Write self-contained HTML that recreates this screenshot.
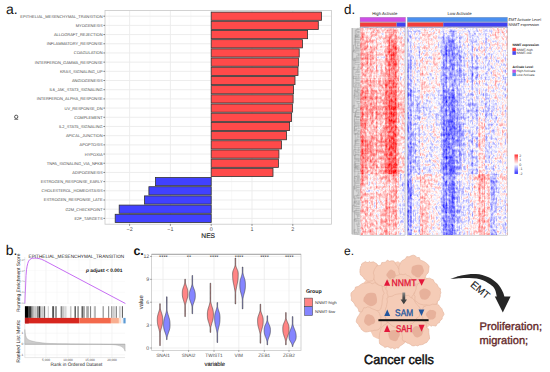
<!DOCTYPE html>
<html><head><meta charset="utf-8"><style>
html,body{margin:0;padding:0;background:#fff;}
body{width:550px;height:372px;overflow:hidden;}
svg{display:block;font-family:"Liberation Sans", sans-serif;text-rendering:geometricPrecision;}
</style></head><body>
<svg width="550" height="372" viewBox="0 0 550 372">
<rect x="105.0" y="10.5" width="226.39999999999998" height="213.7" fill="#fff"/>
<line x1="109.20" y1="10.5" x2="109.20" y2="224.2" stroke="#f2f2f2" stroke-width="0.5"/>
<line x1="150.00" y1="10.5" x2="150.00" y2="224.2" stroke="#f2f2f2" stroke-width="0.5"/>
<line x1="190.80" y1="10.5" x2="190.80" y2="224.2" stroke="#f2f2f2" stroke-width="0.5"/>
<line x1="231.60" y1="10.5" x2="231.60" y2="224.2" stroke="#f2f2f2" stroke-width="0.5"/>
<line x1="272.40" y1="10.5" x2="272.40" y2="224.2" stroke="#f2f2f2" stroke-width="0.5"/>
<line x1="313.20" y1="10.5" x2="313.20" y2="224.2" stroke="#f2f2f2" stroke-width="0.5"/>
<line x1="129.60" y1="10.5" x2="129.60" y2="224.2" stroke="#ebebeb" stroke-width="0.9"/>
<line x1="170.40" y1="10.5" x2="170.40" y2="224.2" stroke="#ebebeb" stroke-width="0.9"/>
<line x1="211.20" y1="10.5" x2="211.20" y2="224.2" stroke="#ebebeb" stroke-width="0.9"/>
<line x1="252.00" y1="10.5" x2="252.00" y2="224.2" stroke="#ebebeb" stroke-width="0.9"/>
<line x1="292.80" y1="10.5" x2="292.80" y2="224.2" stroke="#ebebeb" stroke-width="0.9"/>
<line x1="105.0" y1="16.20" x2="331.4" y2="16.20" stroke="#ebebeb" stroke-width="0.9"/>
<line x1="105.0" y1="25.39" x2="331.4" y2="25.39" stroke="#ebebeb" stroke-width="0.9"/>
<line x1="105.0" y1="34.58" x2="331.4" y2="34.58" stroke="#ebebeb" stroke-width="0.9"/>
<line x1="105.0" y1="43.77" x2="331.4" y2="43.77" stroke="#ebebeb" stroke-width="0.9"/>
<line x1="105.0" y1="52.96" x2="331.4" y2="52.96" stroke="#ebebeb" stroke-width="0.9"/>
<line x1="105.0" y1="62.15" x2="331.4" y2="62.15" stroke="#ebebeb" stroke-width="0.9"/>
<line x1="105.0" y1="71.34" x2="331.4" y2="71.34" stroke="#ebebeb" stroke-width="0.9"/>
<line x1="105.0" y1="80.53" x2="331.4" y2="80.53" stroke="#ebebeb" stroke-width="0.9"/>
<line x1="105.0" y1="89.72" x2="331.4" y2="89.72" stroke="#ebebeb" stroke-width="0.9"/>
<line x1="105.0" y1="98.91" x2="331.4" y2="98.91" stroke="#ebebeb" stroke-width="0.9"/>
<line x1="105.0" y1="108.10" x2="331.4" y2="108.10" stroke="#ebebeb" stroke-width="0.9"/>
<line x1="105.0" y1="117.29" x2="331.4" y2="117.29" stroke="#ebebeb" stroke-width="0.9"/>
<line x1="105.0" y1="126.48" x2="331.4" y2="126.48" stroke="#ebebeb" stroke-width="0.9"/>
<line x1="105.0" y1="135.67" x2="331.4" y2="135.67" stroke="#ebebeb" stroke-width="0.9"/>
<line x1="105.0" y1="144.86" x2="331.4" y2="144.86" stroke="#ebebeb" stroke-width="0.9"/>
<line x1="105.0" y1="154.05" x2="331.4" y2="154.05" stroke="#ebebeb" stroke-width="0.9"/>
<line x1="105.0" y1="163.24" x2="331.4" y2="163.24" stroke="#ebebeb" stroke-width="0.9"/>
<line x1="105.0" y1="172.43" x2="331.4" y2="172.43" stroke="#ebebeb" stroke-width="0.9"/>
<line x1="105.0" y1="181.62" x2="331.4" y2="181.62" stroke="#ebebeb" stroke-width="0.9"/>
<line x1="105.0" y1="190.81" x2="331.4" y2="190.81" stroke="#ebebeb" stroke-width="0.9"/>
<line x1="105.0" y1="200.00" x2="331.4" y2="200.00" stroke="#ebebeb" stroke-width="0.9"/>
<line x1="105.0" y1="209.19" x2="331.4" y2="209.19" stroke="#ebebeb" stroke-width="0.9"/>
<line x1="105.0" y1="218.38" x2="331.4" y2="218.38" stroke="#ebebeb" stroke-width="0.9"/>
<rect x="211.2" y="12.10" width="110.30" height="8.2" fill="#ff4a4a" stroke="#333" stroke-width="0.8"/>
<rect x="211.2" y="21.29" width="107.10" height="8.2" fill="#ff4a4a" stroke="#333" stroke-width="0.8"/>
<rect x="211.2" y="30.48" width="96.40" height="8.2" fill="#ff4a4a" stroke="#333" stroke-width="0.8"/>
<rect x="211.2" y="39.67" width="91.30" height="8.2" fill="#ff4a4a" stroke="#333" stroke-width="0.8"/>
<rect x="211.2" y="48.86" width="88.00" height="8.2" fill="#ff4a4a" stroke="#333" stroke-width="0.8"/>
<rect x="211.2" y="58.05" width="87.30" height="8.2" fill="#ff4a4a" stroke="#333" stroke-width="0.8"/>
<rect x="211.2" y="67.24" width="86.80" height="8.2" fill="#ff4a4a" stroke="#333" stroke-width="0.8"/>
<rect x="211.2" y="76.43" width="83.80" height="8.2" fill="#ff4a4a" stroke="#333" stroke-width="0.8"/>
<rect x="211.2" y="85.62" width="82.40" height="8.2" fill="#ff4a4a" stroke="#333" stroke-width="0.8"/>
<rect x="211.2" y="94.81" width="81.90" height="8.2" fill="#ff4a4a" stroke="#333" stroke-width="0.8"/>
<rect x="211.2" y="104.00" width="81.20" height="8.2" fill="#ff4a4a" stroke="#333" stroke-width="0.8"/>
<rect x="211.2" y="113.19" width="80.40" height="8.2" fill="#ff4a4a" stroke="#333" stroke-width="0.8"/>
<rect x="211.2" y="122.38" width="78.40" height="8.2" fill="#ff4a4a" stroke="#333" stroke-width="0.8"/>
<rect x="211.2" y="131.57" width="75.30" height="8.2" fill="#ff4a4a" stroke="#333" stroke-width="0.8"/>
<rect x="211.2" y="140.76" width="70.20" height="8.2" fill="#ff4a4a" stroke="#333" stroke-width="0.8"/>
<rect x="211.2" y="149.95" width="67.70" height="8.2" fill="#ff4a4a" stroke="#333" stroke-width="0.8"/>
<rect x="211.2" y="159.14" width="67.20" height="8.2" fill="#ff4a4a" stroke="#333" stroke-width="0.8"/>
<rect x="211.2" y="168.33" width="61.80" height="8.2" fill="#ff4a4a" stroke="#333" stroke-width="0.8"/>
<rect x="155.5" y="177.52" width="55.70" height="8.2" fill="#4141ff" stroke="#333" stroke-width="0.8"/>
<rect x="148.9" y="186.71" width="62.30" height="8.2" fill="#4141ff" stroke="#333" stroke-width="0.8"/>
<rect x="144.5" y="195.90" width="66.70" height="8.2" fill="#4141ff" stroke="#333" stroke-width="0.8"/>
<rect x="119.2" y="205.09" width="92.00" height="8.2" fill="#4141ff" stroke="#333" stroke-width="0.8"/>
<rect x="115.2" y="214.28" width="96.00" height="8.2" fill="#4141ff" stroke="#333" stroke-width="0.8"/>
<rect x="105.0" y="10.5" width="226.39999999999998" height="213.7" fill="none" stroke="#c8c8c8" stroke-width="0.8"/>
<line x1="103.4" y1="16.20" x2="105.0" y2="16.20" stroke="#333" stroke-width="0.6"/>
<text x="102.60" y="17.65" font-size="4.0" fill="#4d4d4d" text-anchor="end" font-weight="normal" >EPITHELIAL_MESENCHYMAL_TRANSITION</text>
<line x1="103.4" y1="25.39" x2="105.0" y2="25.39" stroke="#333" stroke-width="0.6"/>
<text x="102.60" y="26.84" font-size="4.0" fill="#4d4d4d" text-anchor="end" font-weight="normal" >MYOGENESIS</text>
<line x1="103.4" y1="34.58" x2="105.0" y2="34.58" stroke="#333" stroke-width="0.6"/>
<text x="102.60" y="36.03" font-size="4.0" fill="#4d4d4d" text-anchor="end" font-weight="normal" >ALLOGRAFT_REJECTION</text>
<line x1="103.4" y1="43.77" x2="105.0" y2="43.77" stroke="#333" stroke-width="0.6"/>
<text x="102.60" y="45.22" font-size="4.0" fill="#4d4d4d" text-anchor="end" font-weight="normal" >INFLAMMATORY_RESPONSE</text>
<line x1="103.4" y1="52.96" x2="105.0" y2="52.96" stroke="#333" stroke-width="0.6"/>
<text x="102.60" y="54.41" font-size="4.0" fill="#4d4d4d" text-anchor="end" font-weight="normal" >COAGULATION</text>
<line x1="103.4" y1="62.15" x2="105.0" y2="62.15" stroke="#333" stroke-width="0.6"/>
<text x="102.60" y="63.60" font-size="4.0" fill="#4d4d4d" text-anchor="end" font-weight="normal" >INTERFERON_GAMMA_RESPONSE</text>
<line x1="103.4" y1="71.34" x2="105.0" y2="71.34" stroke="#333" stroke-width="0.6"/>
<text x="102.60" y="72.79" font-size="4.0" fill="#4d4d4d" text-anchor="end" font-weight="normal" >KRAS_SIGNALING_UP</text>
<line x1="103.4" y1="80.53" x2="105.0" y2="80.53" stroke="#333" stroke-width="0.6"/>
<text x="102.60" y="81.98" font-size="4.0" fill="#4d4d4d" text-anchor="end" font-weight="normal" >ANGIOGENESIS</text>
<line x1="103.4" y1="89.72" x2="105.0" y2="89.72" stroke="#333" stroke-width="0.6"/>
<text x="102.60" y="91.17" font-size="4.0" fill="#4d4d4d" text-anchor="end" font-weight="normal" >IL6_JAK_STAT3_SIGNALING</text>
<line x1="103.4" y1="98.91" x2="105.0" y2="98.91" stroke="#333" stroke-width="0.6"/>
<text x="102.60" y="100.36" font-size="4.0" fill="#4d4d4d" text-anchor="end" font-weight="normal" >INTERFERON_ALPHA_RESPONSE</text>
<line x1="103.4" y1="108.10" x2="105.0" y2="108.10" stroke="#333" stroke-width="0.6"/>
<text x="102.60" y="109.55" font-size="4.0" fill="#4d4d4d" text-anchor="end" font-weight="normal" >UV_RESPONSE_DN</text>
<line x1="103.4" y1="117.29" x2="105.0" y2="117.29" stroke="#333" stroke-width="0.6"/>
<text x="102.60" y="118.74" font-size="4.0" fill="#4d4d4d" text-anchor="end" font-weight="normal" >COMPLEMENT</text>
<line x1="103.4" y1="126.48" x2="105.0" y2="126.48" stroke="#333" stroke-width="0.6"/>
<text x="102.60" y="127.93" font-size="4.0" fill="#4d4d4d" text-anchor="end" font-weight="normal" >IL2_STAT5_SIGNALING</text>
<line x1="103.4" y1="135.67" x2="105.0" y2="135.67" stroke="#333" stroke-width="0.6"/>
<text x="102.60" y="137.12" font-size="4.0" fill="#4d4d4d" text-anchor="end" font-weight="normal" >APICAL_JUNCTION</text>
<line x1="103.4" y1="144.86" x2="105.0" y2="144.86" stroke="#333" stroke-width="0.6"/>
<text x="102.60" y="146.31" font-size="4.0" fill="#4d4d4d" text-anchor="end" font-weight="normal" >APOPTOSIS</text>
<line x1="103.4" y1="154.05" x2="105.0" y2="154.05" stroke="#333" stroke-width="0.6"/>
<text x="102.60" y="155.50" font-size="4.0" fill="#4d4d4d" text-anchor="end" font-weight="normal" >HYPOXIA</text>
<line x1="103.4" y1="163.24" x2="105.0" y2="163.24" stroke="#333" stroke-width="0.6"/>
<text x="102.60" y="164.69" font-size="4.0" fill="#4d4d4d" text-anchor="end" font-weight="normal" >TNFA_SIGNALING_VIA_NFKB</text>
<line x1="103.4" y1="172.43" x2="105.0" y2="172.43" stroke="#333" stroke-width="0.6"/>
<text x="102.60" y="173.88" font-size="4.0" fill="#4d4d4d" text-anchor="end" font-weight="normal" >ADIPOGENESIS</text>
<line x1="103.4" y1="181.62" x2="105.0" y2="181.62" stroke="#333" stroke-width="0.6"/>
<text x="102.60" y="183.07" font-size="4.0" fill="#4d4d4d" text-anchor="end" font-weight="normal" >ESTROGEN_RESPONSE_EARLY</text>
<line x1="103.4" y1="190.81" x2="105.0" y2="190.81" stroke="#333" stroke-width="0.6"/>
<text x="102.60" y="192.26" font-size="4.0" fill="#4d4d4d" text-anchor="end" font-weight="normal" >CHOLESTEROL_HOMEOSTASIS</text>
<line x1="103.4" y1="200.00" x2="105.0" y2="200.00" stroke="#333" stroke-width="0.6"/>
<text x="102.60" y="201.45" font-size="4.0" fill="#4d4d4d" text-anchor="end" font-weight="normal" >ESTROGEN_RESPONSE_LATE</text>
<line x1="103.4" y1="209.19" x2="105.0" y2="209.19" stroke="#333" stroke-width="0.6"/>
<text x="102.60" y="210.64" font-size="4.0" fill="#4d4d4d" text-anchor="end" font-weight="normal" >G2M_CHECKPOINT</text>
<line x1="103.4" y1="218.38" x2="105.0" y2="218.38" stroke="#333" stroke-width="0.6"/>
<text x="102.60" y="219.83" font-size="4.0" fill="#4d4d4d" text-anchor="end" font-weight="normal" >E2F_TARGETS</text>
<line x1="129.60" y1="224.2" x2="129.60" y2="225.79999999999998" stroke="#333" stroke-width="0.6"/>
<text x="129.60" y="230.60" font-size="5.4" fill="#4d4d4d" text-anchor="middle" font-weight="normal" >−2</text>
<line x1="170.40" y1="224.2" x2="170.40" y2="225.79999999999998" stroke="#333" stroke-width="0.6"/>
<text x="170.40" y="230.60" font-size="5.4" fill="#4d4d4d" text-anchor="middle" font-weight="normal" >−1</text>
<line x1="211.20" y1="224.2" x2="211.20" y2="225.79999999999998" stroke="#333" stroke-width="0.6"/>
<text x="211.20" y="230.60" font-size="5.4" fill="#4d4d4d" text-anchor="middle" font-weight="normal" >0</text>
<line x1="252.00" y1="224.2" x2="252.00" y2="225.79999999999998" stroke="#333" stroke-width="0.6"/>
<text x="252.00" y="230.60" font-size="5.4" fill="#4d4d4d" text-anchor="middle" font-weight="normal" >1</text>
<line x1="292.80" y1="224.2" x2="292.80" y2="225.79999999999998" stroke="#333" stroke-width="0.6"/>
<text x="292.80" y="230.60" font-size="5.4" fill="#4d4d4d" text-anchor="middle" font-weight="normal" >2</text>
<text x="208.20" y="238.20" font-size="6.7" fill="#1a1a1a" text-anchor="middle" font-weight="normal" stroke="#1a1a1a" stroke-width="0.12">NES</text>
<circle cx="16.2" cy="116.8" r="1.65" fill="none" stroke="#3a3a3a" stroke-width="0.85"/><path d="M14.3,119.3 H18.2" stroke="#4a4a4a" stroke-width="0.8"/>
<text x="5.90" y="14.00" font-size="14" fill="#111" text-anchor="start" font-weight="normal" >a.</text>
<text x="5.80" y="254.80" font-size="14" fill="#111" text-anchor="start" font-weight="normal" >b.</text>
<line x1="46.00" y1="258" x2="46.00" y2="304" stroke="#ececec" stroke-width="0.6"/>
<line x1="46.00" y1="306" x2="46.00" y2="318.5" stroke="#ececec" stroke-width="0.6"/>
<line x1="46.00" y1="324" x2="46.00" y2="357.5" stroke="#ececec" stroke-width="0.6"/>
<line x1="68.00" y1="258" x2="68.00" y2="304" stroke="#ececec" stroke-width="0.6"/>
<line x1="68.00" y1="306" x2="68.00" y2="318.5" stroke="#ececec" stroke-width="0.6"/>
<line x1="68.00" y1="324" x2="68.00" y2="357.5" stroke="#ececec" stroke-width="0.6"/>
<line x1="90.00" y1="258" x2="90.00" y2="304" stroke="#ececec" stroke-width="0.6"/>
<line x1="90.00" y1="306" x2="90.00" y2="318.5" stroke="#ececec" stroke-width="0.6"/>
<line x1="90.00" y1="324" x2="90.00" y2="357.5" stroke="#ececec" stroke-width="0.6"/>
<line x1="112.00" y1="258" x2="112.00" y2="304" stroke="#ececec" stroke-width="0.6"/>
<line x1="112.00" y1="306" x2="112.00" y2="318.5" stroke="#ececec" stroke-width="0.6"/>
<line x1="112.00" y1="324" x2="112.00" y2="357.5" stroke="#ececec" stroke-width="0.6"/>
<line x1="35.00" y1="258" x2="35.00" y2="304" stroke="#f3f3f3" stroke-width="0.5"/>
<line x1="35.00" y1="324" x2="35.00" y2="357.5" stroke="#f3f3f3" stroke-width="0.5"/>
<line x1="57.00" y1="258" x2="57.00" y2="304" stroke="#f3f3f3" stroke-width="0.5"/>
<line x1="57.00" y1="324" x2="57.00" y2="357.5" stroke="#f3f3f3" stroke-width="0.5"/>
<line x1="79.00" y1="258" x2="79.00" y2="304" stroke="#f3f3f3" stroke-width="0.5"/>
<line x1="79.00" y1="324" x2="79.00" y2="357.5" stroke="#f3f3f3" stroke-width="0.5"/>
<line x1="101.00" y1="258" x2="101.00" y2="304" stroke="#f3f3f3" stroke-width="0.5"/>
<line x1="101.00" y1="324" x2="101.00" y2="357.5" stroke="#f3f3f3" stroke-width="0.5"/>
<line x1="24.8" y1="259.70" x2="125.0" y2="259.70" stroke="#f6f6f6" stroke-width="0.4"/>
<line x1="23.6" y1="259.70" x2="24.8" y2="259.70" stroke="#555" stroke-width="0.4"/>
<line x1="24.8" y1="270.60" x2="125.0" y2="270.60" stroke="#f6f6f6" stroke-width="0.4"/>
<line x1="23.6" y1="270.60" x2="24.8" y2="270.60" stroke="#555" stroke-width="0.4"/>
<line x1="24.8" y1="281.50" x2="125.0" y2="281.50" stroke="#f6f6f6" stroke-width="0.4"/>
<line x1="23.6" y1="281.50" x2="24.8" y2="281.50" stroke="#555" stroke-width="0.4"/>
<line x1="24.8" y1="292.40" x2="125.0" y2="292.40" stroke="#f6f6f6" stroke-width="0.4"/>
<line x1="23.6" y1="292.40" x2="24.8" y2="292.40" stroke="#555" stroke-width="0.4"/>
<line x1="24.8" y1="303.30" x2="125.0" y2="303.30" stroke="#f6f6f6" stroke-width="0.4"/>
<line x1="23.6" y1="303.30" x2="24.8" y2="303.30" stroke="#555" stroke-width="0.4"/>
<path d="M24.80,303.50 L25.10,296.00 L25.50,288.00 L26.00,275.50 L26.50,269.80 L27.10,266.20 L27.80,263.30 L28.60,261.10 L29.80,259.60 L31.10,258.60 L32.60,258.20 L34.20,258.10 L36.50,258.20 L39.30,258.60 L41.80,259.40 L44.40,260.60 L55.00,266.21 L65.00,271.51 L75.00,276.81 L85.00,282.10 L95.00,287.40 L105.00,292.69 L115.00,297.99 L125.40,303.50" fill="none" stroke="#bf5cf2" stroke-width="0.9" stroke-linejoin="round"/>
<line x1="24.8" y1="257" x2="24.8" y2="304" stroke="#d9d9d9" stroke-width="0.4"/>
<text x="28.60" y="258.40" font-size="4.75" fill="#1e1e1e" text-anchor="start" font-weight="normal" textLength="95.6" lengthAdjust="spacingAndGlyphs" >EPITHELIAL_MESENCHYMAL_TRANSITION</text>
<text x="86.00" y="271.80" font-size="4.9" fill="#111" text-anchor="start" font-weight="bold" textLength="36.4" lengthAdjust="spacingAndGlyphs" ><tspan font-style="italic">p</tspan> adjust &lt; 0.001</text>
<text x="23.40" y="260.60" font-size="2.6" fill="#888" text-anchor="end" font-weight="normal" >0.8</text>
<text x="23.40" y="271.50" font-size="2.6" fill="#888" text-anchor="end" font-weight="normal" >0.6</text>
<text x="23.40" y="282.40" font-size="2.6" fill="#888" text-anchor="end" font-weight="normal" >0.4</text>
<text x="23.40" y="293.30" font-size="2.6" fill="#888" text-anchor="end" font-weight="normal" >0.2</text>
<text x="23.40" y="304.20" font-size="2.6" fill="#888" text-anchor="end" font-weight="normal" >0.0</text>
<text x="19.60" y="282.80" font-size="4.9" fill="#1e1e1e" text-anchor="middle" font-weight="normal" transform="rotate(-90 19.6 282.8)">Running Enrichment Score</text>
<text x="19.60" y="341.30" font-size="5.2" fill="#1e1e1e" text-anchor="middle" font-weight="normal" transform="rotate(-90 19.6 341.3)">Ranked List Metric</text>
<rect x="24.9" y="306.2" width="3.8" height="11.7" fill="rgb(0,0,0)"/>
<rect x="28.7" y="306.2" width="2.5" height="11.7" fill="rgb(56,56,56)"/>
<rect x="31.2" y="306.2" width="1.1" height="11.7" fill="rgb(107,107,107)"/>
<rect x="32.3" y="306.2" width="1.1" height="11.7" fill="rgb(140,140,140)"/>
<rect x="33.4" y="306.2" width="1.1" height="11.7" fill="rgb(173,173,173)"/>
<rect x="34.5" y="306.2" width="2.1" height="11.7" fill="rgb(198,198,198)"/>
<rect x="36.9" y="306.2" width="1.1" height="11.7" fill="rgb(132,132,132)"/>
<rect x="38.5" y="306.2" width="1.4" height="11.7" fill="rgb(30,30,30)"/>
<rect x="40.2" y="306.2" width="1.1" height="11.7" fill="rgb(147,147,147)"/>
<rect x="41.8" y="306.2" width="0.8" height="11.7" fill="rgb(168,168,168)"/>
<rect x="43.7" y="306.2" width="1.4" height="11.7" fill="rgb(107,107,107)"/>
<rect x="47.8" y="306.2" width="0.8" height="11.7" fill="rgb(183,183,183)"/>
<rect x="52.2" y="306.2" width="1.9" height="11.7" fill="rgb(84,84,84)"/>
<rect x="55.2" y="306.2" width="1.6" height="11.7" fill="rgb(132,132,132)"/>
<rect x="60.6" y="306.2" width="1.4" height="11.7" fill="rgb(132,132,132)"/>
<rect x="62.0" y="306.2" width="2.3" height="11.7" fill="rgb(198,198,198)"/>
<rect x="64.3" y="306.2" width="2.3" height="11.7" fill="rgb(214,214,214)"/>
<rect x="69.9" y="306.2" width="1.6" height="11.7" fill="rgb(198,198,198)"/>
<rect x="74.5" y="306.2" width="1.4" height="11.7" fill="rgb(84,84,84)"/>
<rect x="77.3" y="306.2" width="1.6" height="11.7" fill="rgb(147,147,147)"/>
<rect x="81.5" y="306.2" width="1.7" height="11.7" fill="rgb(96,96,96)"/>
<rect x="83.2" y="306.2" width="1.6" height="11.7" fill="rgb(153,153,153)"/>
<rect x="86.2" y="306.2" width="2.7" height="11.7" fill="rgb(168,168,168)"/>
<rect x="90.0" y="306.2" width="1.1" height="11.7" fill="rgb(132,132,132)"/>
<rect x="93.8" y="306.2" width="2.2" height="11.7" fill="rgb(188,188,188)"/>
<rect x="102.6" y="306.2" width="1.2" height="11.7" fill="rgb(147,147,147)"/>
<rect x="108.0" y="306.2" width="1.2" height="11.7" fill="rgb(147,147,147)"/>
<rect x="111.0" y="306.2" width="0.9" height="11.7" fill="rgb(147,147,147)"/>
<rect x="112.1" y="306.2" width="2.7" height="11.7" fill="rgb(204,204,204)"/>
<rect x="115.7" y="306.2" width="1.2" height="11.7" fill="rgb(127,127,127)"/>
<rect x="118.9" y="306.2" width="1.8" height="11.7" fill="rgb(204,204,204)"/>
<rect x="121.9" y="306.2" width="0.9" height="11.7" fill="rgb(66,66,66)"/>
<rect x="24.9" y="317.9" width="54.4" height="5.5" fill="#d7261e"/>
<rect x="24.9" y="317.9" width="3.8" height="5.5" fill="#bd1b1b"/>
<rect x="79.3" y="317.9" width="31.6" height="5.5" fill="#f3694c"/>
<rect x="110.9" y="317.9" width="8.0" height="5.5" fill="#f9ae90"/>
<rect x="118.9" y="317.9" width="2.3" height="5.5" fill="#fddfcc"/>
<rect x="121.2" y="317.9" width="2.2" height="5.5" fill="#eef2f8"/>
<rect x="123.4" y="317.9" width="2.2" height="5.5" fill="#5b9bd5"/>
<line x1="24.8" y1="333.2" x2="125.0" y2="333.2" stroke="#efefef" stroke-width="0.5"/>
<line x1="24.8" y1="344" x2="125.0" y2="344" stroke="#efefef" stroke-width="0.5"/>
<line x1="24.8" y1="354.8" x2="125.0" y2="354.8" stroke="#efefef" stroke-width="0.5"/>
<line x1="24.8" y1="324" x2="24.8" y2="357.6" stroke="#cfcfcf" stroke-width="0.5"/>
<line x1="24.8" y1="357.6" x2="125.0" y2="357.6" stroke="#cfcfcf" stroke-width="0.5"/>
<path d="M24.8,344.3 L24.8,329.5 C25.1,334 25.8,337.4 27.6,339.3 C31,341.4 39,342.8 50,343.5 C70,344 100,344.2 112,344.6 C118,345 121,346 123,347.6 C124,348.6 124.8,350 125.1,351.2 L125.1,344.3 Z" fill="#cdcdcd" stroke="#9c9c9c" stroke-width="0.35"/>
<line x1="24.8" y1="344.3" x2="125.1" y2="344.3" stroke="#a0a0a0" stroke-width="0.5"/>
<text x="46.00" y="360.80" font-size="3.2" fill="#555" text-anchor="middle" font-weight="normal" >5,000</text>
<text x="68.00" y="360.80" font-size="3.2" fill="#555" text-anchor="middle" font-weight="normal" >10,000</text>
<text x="90.00" y="360.80" font-size="3.2" fill="#555" text-anchor="middle" font-weight="normal" >15,000</text>
<text x="112.00" y="360.80" font-size="3.2" fill="#555" text-anchor="middle" font-weight="normal" >20,000</text>
<text x="23.20" y="334.30" font-size="3.2" fill="#555" text-anchor="end" font-weight="normal" >1</text>
<text x="23.20" y="345.10" font-size="3.2" fill="#555" text-anchor="end" font-weight="normal" >0</text>
<text x="23.20" y="355.90" font-size="3.2" fill="#555" text-anchor="end" font-weight="normal" >-1</text>
<text x="76.40" y="366.20" font-size="4.9" fill="#222" text-anchor="middle" font-weight="normal" textLength="52" lengthAdjust="spacingAndGlyphs" >Rank in Ordered Dataset</text>
<text x="133.40" y="255.40" font-size="12.5" fill="#111" text-anchor="start" font-weight="bold" >c.</text>
<rect x="151.6" y="254.3" width="149.4" height="96.09999999999997" fill="#fff"/>
<line x1="151.6" y1="336.56" x2="301.0" y2="336.56" stroke="#f4f4f4" stroke-width="0.45"/>
<line x1="151.6" y1="313.67" x2="301.0" y2="313.67" stroke="#f4f4f4" stroke-width="0.45"/>
<line x1="151.6" y1="290.77" x2="301.0" y2="290.77" stroke="#f4f4f4" stroke-width="0.45"/>
<line x1="151.6" y1="267.88" x2="301.0" y2="267.88" stroke="#f4f4f4" stroke-width="0.45"/>
<line x1="151.6" y1="348.00" x2="301.0" y2="348.00" stroke="#ebebeb" stroke-width="0.8"/>
<line x1="151.6" y1="325.11" x2="301.0" y2="325.11" stroke="#ebebeb" stroke-width="0.8"/>
<line x1="151.6" y1="302.22" x2="301.0" y2="302.22" stroke="#ebebeb" stroke-width="0.8"/>
<line x1="151.6" y1="279.33" x2="301.0" y2="279.33" stroke="#ebebeb" stroke-width="0.8"/>
<line x1="151.6" y1="256.44" x2="301.0" y2="256.44" stroke="#ebebeb" stroke-width="0.8"/>
<line x1="163.0" y1="254.3" x2="163.0" y2="350.4" stroke="#ebebeb" stroke-width="0.8"/>
<line x1="188.6" y1="254.3" x2="188.6" y2="350.4" stroke="#ebebeb" stroke-width="0.8"/>
<line x1="214.0" y1="254.3" x2="214.0" y2="350.4" stroke="#ebebeb" stroke-width="0.8"/>
<line x1="238.8" y1="254.3" x2="238.8" y2="350.4" stroke="#ebebeb" stroke-width="0.8"/>
<line x1="264.3" y1="254.3" x2="264.3" y2="350.4" stroke="#ebebeb" stroke-width="0.8"/>
<line x1="289.0" y1="254.3" x2="289.0" y2="350.4" stroke="#ebebeb" stroke-width="0.8"/>
<path d="M160.30,303.70 L160.30,304.75 L160.30,305.80 L160.30,306.84 L160.30,307.89 L160.41,308.94 L160.64,309.99 L160.92,311.03 L161.25,312.08 L161.59,313.13 L161.92,314.18 L162.21,315.22 L162.44,316.27 L162.59,317.32 L162.67,318.37 L162.70,319.41 L162.70,320.46 L162.67,321.51 L162.60,322.56 L162.47,323.60 L162.29,324.65 L162.05,325.70 L161.77,326.75 L161.47,327.79 L161.16,328.84 L160.88,329.89 L160.63,330.94 L160.43,331.98 L160.30,333.03 L160.30,334.08 L160.30,335.12 L160.30,336.17 L160.30,337.22 L160.30,338.27 L160.30,339.31 L160.30,340.36 L160.30,341.41 L160.30,342.46 L160.30,343.50 L160.30,344.55 L160.30,345.60 L159.70,345.60 L159.70,344.55 L159.70,343.50 L159.70,342.46 L159.70,341.41 L159.70,340.36 L159.70,339.31 L159.70,338.27 L159.70,337.22 L159.70,336.17 L159.70,335.12 L159.70,334.08 L159.70,333.03 L159.57,331.98 L159.37,330.94 L159.12,329.89 L158.84,328.84 L158.53,327.79 L158.23,326.75 L157.95,325.70 L157.71,324.65 L157.53,323.60 L157.40,322.56 L157.33,321.51 L157.30,320.46 L157.30,319.41 L157.33,318.37 L157.41,317.32 L157.56,316.27 L157.79,315.22 L158.08,314.18 L158.41,313.13 L158.75,312.08 L159.08,311.03 L159.36,309.99 L159.59,308.94 L159.70,307.89 L159.70,306.84 L159.70,305.80 L159.70,304.75 L159.70,303.70Z" fill="#ff8585" stroke="#3a3a3a" stroke-width="0.55" stroke-linejoin="round"/>
<path d="M167.10,296.80 L167.10,297.87 L167.10,298.94 L167.10,300.01 L167.10,301.08 L167.10,302.15 L167.10,303.22 L167.10,304.29 L167.10,305.36 L167.10,306.43 L167.10,307.50 L167.10,308.57 L167.10,309.64 L167.17,310.71 L167.35,311.78 L167.59,312.85 L167.87,313.92 L168.19,314.99 L168.54,316.06 L168.88,317.13 L169.21,318.20 L169.49,319.27 L169.72,320.34 L169.88,321.41 L169.98,322.48 L170.03,323.55 L170.04,324.62 L170.03,325.69 L169.98,326.76 L169.86,327.83 L169.66,328.90 L169.39,329.97 L169.06,331.04 L168.68,332.11 L168.30,333.18 L167.94,334.25 L167.61,335.32 L167.35,336.39 L167.15,337.46 L167.10,338.53 L167.10,339.60 L166.50,339.60 L166.50,338.53 L166.45,337.46 L166.25,336.39 L165.99,335.32 L165.66,334.25 L165.30,333.18 L164.92,332.11 L164.54,331.04 L164.21,329.97 L163.94,328.90 L163.74,327.83 L163.62,326.76 L163.57,325.69 L163.56,324.62 L163.57,323.55 L163.62,322.48 L163.72,321.41 L163.88,320.34 L164.11,319.27 L164.39,318.20 L164.72,317.13 L165.06,316.06 L165.41,314.99 L165.73,313.92 L166.01,312.85 L166.25,311.78 L166.43,310.71 L166.50,309.64 L166.50,308.57 L166.50,307.50 L166.50,306.43 L166.50,305.36 L166.50,304.29 L166.50,303.22 L166.50,302.15 L166.50,301.08 L166.50,300.01 L166.50,298.94 L166.50,297.87 L166.50,296.80Z" fill="#8585ff" stroke="#3a3a3a" stroke-width="0.55" stroke-linejoin="round"/>
<path d="M185.40,279.20 L185.40,280.13 L185.40,281.07 L185.40,282.00 L185.49,282.94 L185.70,283.88 L185.97,284.81 L186.29,285.75 L186.63,286.68 L186.97,287.62 L187.28,288.55 L187.54,289.49 L187.73,290.42 L187.84,291.36 L187.90,292.29 L187.91,293.23 L187.90,294.16 L187.86,295.10 L187.77,296.03 L187.63,296.97 L187.44,297.90 L187.19,298.84 L186.91,299.77 L186.61,300.70 L186.31,301.64 L186.03,302.57 L185.78,303.51 L185.58,304.44 L185.42,305.38 L185.40,306.31 L185.40,307.25 L185.40,308.19 L185.40,309.12 L185.40,310.06 L185.40,310.99 L185.40,311.93 L185.40,312.86 L185.40,313.80 L185.40,314.73 L185.40,315.67 L185.40,316.60 L184.80,316.60 L184.80,315.67 L184.80,314.73 L184.80,313.80 L184.80,312.86 L184.80,311.93 L184.80,310.99 L184.80,310.06 L184.80,309.12 L184.80,308.19 L184.80,307.25 L184.80,306.31 L184.78,305.38 L184.62,304.44 L184.42,303.51 L184.17,302.57 L183.89,301.64 L183.59,300.70 L183.29,299.77 L183.01,298.84 L182.76,297.90 L182.57,296.97 L182.43,296.03 L182.34,295.10 L182.30,294.16 L182.29,293.23 L182.30,292.29 L182.36,291.36 L182.47,290.42 L182.66,289.49 L182.92,288.55 L183.23,287.62 L183.57,286.68 L183.91,285.75 L184.23,284.81 L184.50,283.88 L184.71,282.94 L184.80,282.00 L184.80,281.07 L184.80,280.13 L184.80,279.20Z" fill="#ff8585" stroke="#3a3a3a" stroke-width="0.55" stroke-linejoin="round"/>
<path d="M192.60,275.50 L192.60,276.45 L192.60,277.41 L192.60,278.37 L192.60,279.32 L192.60,280.27 L192.60,281.23 L192.60,282.19 L192.60,283.14 L192.60,284.09 L192.73,285.05 L192.96,286.00 L193.25,286.96 L193.59,287.92 L193.96,288.87 L194.32,289.82 L194.65,290.78 L194.92,291.74 L195.12,292.69 L195.25,293.64 L195.31,294.60 L195.32,295.56 L195.31,296.51 L195.26,297.46 L195.13,298.42 L194.93,299.38 L194.65,300.33 L194.31,301.28 L193.95,302.24 L193.58,303.19 L193.23,304.15 L192.94,305.11 L192.72,306.06 L192.60,307.01 L192.60,307.97 L192.60,308.93 L192.60,309.88 L192.60,310.83 L192.60,311.79 L192.60,312.75 L192.60,313.70 L192.00,313.70 L192.00,312.75 L192.00,311.79 L192.00,310.83 L192.00,309.88 L192.00,308.93 L192.00,307.97 L192.00,307.01 L191.88,306.06 L191.66,305.11 L191.37,304.15 L191.02,303.19 L190.65,302.24 L190.29,301.28 L189.95,300.33 L189.67,299.38 L189.47,298.42 L189.34,297.46 L189.29,296.51 L189.28,295.56 L189.29,294.60 L189.35,293.64 L189.48,292.69 L189.68,291.74 L189.95,290.78 L190.28,289.82 L190.64,288.87 L191.01,287.92 L191.35,286.96 L191.64,286.00 L191.87,285.05 L192.00,284.09 L192.00,283.14 L192.00,282.19 L192.00,281.23 L192.00,280.27 L192.00,279.32 L192.00,278.37 L192.00,277.41 L192.00,276.45 L192.00,275.50Z" fill="#8585ff" stroke="#3a3a3a" stroke-width="0.55" stroke-linejoin="round"/>
<path d="M210.70,283.20 L210.70,284.43 L210.70,285.66 L210.70,286.89 L210.70,288.12 L210.70,289.35 L210.70,290.58 L210.70,291.81 L210.70,293.04 L210.70,294.27 L210.70,295.50 L210.70,296.73 L210.70,297.96 L210.70,299.19 L210.70,300.42 L210.74,301.65 L210.96,302.88 L211.25,304.11 L211.60,305.34 L212.00,306.57 L212.39,307.80 L212.75,309.03 L213.05,310.26 L213.26,311.49 L213.38,312.72 L213.42,313.95 L213.42,315.18 L213.39,316.41 L213.29,317.64 L213.10,318.87 L212.83,320.10 L212.48,321.33 L212.08,322.56 L211.69,323.79 L211.32,325.02 L211.02,326.25 L210.78,327.48 L210.70,328.71 L210.70,329.94 L210.70,331.17 L210.70,332.40 L210.10,332.40 L210.10,331.17 L210.10,329.94 L210.10,328.71 L210.02,327.48 L209.78,326.25 L209.48,325.02 L209.11,323.79 L208.72,322.56 L208.32,321.33 L207.97,320.10 L207.70,318.87 L207.51,317.64 L207.41,316.41 L207.38,315.18 L207.38,313.95 L207.42,312.72 L207.54,311.49 L207.75,310.26 L208.05,309.03 L208.41,307.80 L208.80,306.57 L209.20,305.34 L209.55,304.11 L209.84,302.88 L210.06,301.65 L210.10,300.42 L210.10,299.19 L210.10,297.96 L210.10,296.73 L210.10,295.50 L210.10,294.27 L210.10,293.04 L210.10,291.81 L210.10,290.58 L210.10,289.35 L210.10,288.12 L210.10,286.89 L210.10,285.66 L210.10,284.43 L210.10,283.20Z" fill="#ff8585" stroke="#3a3a3a" stroke-width="0.55" stroke-linejoin="round"/>
<path d="M217.60,302.60 L217.60,303.60 L217.60,304.60 L217.60,305.59 L217.61,306.59 L217.79,307.59 L218.03,308.59 L218.32,309.58 L218.64,310.58 L218.97,311.58 L219.29,312.58 L219.56,313.57 L219.77,314.57 L219.90,315.57 L219.98,316.56 L220.00,317.56 L220.00,318.56 L219.98,319.56 L219.94,320.56 L219.86,321.55 L219.75,322.55 L219.59,323.55 L219.41,324.55 L219.19,325.54 L218.95,326.54 L218.70,327.54 L218.46,328.54 L218.23,329.53 L218.02,330.53 L217.84,331.53 L217.69,332.52 L217.60,333.52 L217.60,334.52 L217.60,335.52 L217.60,336.51 L217.60,337.51 L217.60,338.51 L217.60,339.51 L217.60,340.50 L217.60,341.50 L217.60,342.50 L217.00,342.50 L217.00,341.50 L217.00,340.50 L217.00,339.51 L217.00,338.51 L217.00,337.51 L217.00,336.51 L217.00,335.52 L217.00,334.52 L217.00,333.52 L216.91,332.52 L216.76,331.53 L216.58,330.53 L216.37,329.53 L216.14,328.54 L215.90,327.54 L215.65,326.54 L215.41,325.54 L215.19,324.55 L215.01,323.55 L214.85,322.55 L214.74,321.55 L214.66,320.56 L214.62,319.56 L214.60,318.56 L214.60,317.56 L214.62,316.56 L214.70,315.57 L214.83,314.57 L215.04,313.57 L215.31,312.58 L215.63,311.58 L215.96,310.58 L216.28,309.58 L216.57,308.59 L216.81,307.59 L216.99,306.59 L217.00,305.59 L217.00,304.60 L217.00,303.60 L217.00,302.60Z" fill="#8585ff" stroke="#3a3a3a" stroke-width="0.55" stroke-linejoin="round"/>
<path d="M235.70,258.00 L235.70,259.15 L235.70,260.30 L235.70,261.45 L235.70,262.60 L235.70,263.75 L235.70,264.90 L235.86,266.05 L236.23,267.20 L236.71,268.35 L237.22,269.50 L237.68,270.65 L238.00,271.80 L238.17,272.95 L238.21,274.10 L238.20,275.25 L238.18,276.40 L238.14,277.55 L238.05,278.70 L237.94,279.85 L237.78,281.00 L237.59,282.15 L237.38,283.30 L237.14,284.45 L236.89,285.60 L236.65,286.75 L236.41,287.90 L236.20,289.05 L236.01,290.20 L235.85,291.35 L235.72,292.50 L235.70,293.65 L235.70,294.80 L235.70,295.95 L235.70,297.10 L235.70,298.25 L235.70,299.40 L235.70,300.55 L235.70,301.70 L235.70,302.85 L235.70,304.00 L235.10,304.00 L235.10,302.85 L235.10,301.70 L235.10,300.55 L235.10,299.40 L235.10,298.25 L235.10,297.10 L235.10,295.95 L235.10,294.80 L235.10,293.65 L235.08,292.50 L234.95,291.35 L234.79,290.20 L234.60,289.05 L234.39,287.90 L234.15,286.75 L233.91,285.60 L233.66,284.45 L233.42,283.30 L233.21,282.15 L233.02,281.00 L232.86,279.85 L232.75,278.70 L232.66,277.55 L232.62,276.40 L232.60,275.25 L232.59,274.10 L232.63,272.95 L232.80,271.80 L233.12,270.65 L233.58,269.50 L234.09,268.35 L234.57,267.20 L234.94,266.05 L235.10,264.90 L235.10,263.75 L235.10,262.60 L235.10,261.45 L235.10,260.30 L235.10,259.15 L235.10,258.00Z" fill="#ff8585" stroke="#3a3a3a" stroke-width="0.55" stroke-linejoin="round"/>
<path d="M242.90,267.00 L242.90,268.05 L242.90,269.10 L242.90,270.14 L242.90,271.19 L242.90,272.24 L243.03,273.28 L243.25,274.33 L243.53,275.38 L243.84,276.43 L244.18,277.48 L244.52,278.52 L244.82,279.57 L245.07,280.62 L245.24,281.66 L245.35,282.71 L245.40,283.76 L245.41,284.81 L245.40,285.86 L245.36,286.90 L245.29,287.95 L245.16,289.00 L244.99,290.04 L244.77,291.09 L244.52,292.14 L244.24,293.19 L243.96,294.24 L243.68,295.28 L243.43,296.33 L243.21,297.38 L243.03,298.42 L242.90,299.47 L242.90,300.52 L242.90,301.57 L242.90,302.62 L242.90,303.66 L242.90,304.71 L242.90,305.76 L242.90,306.80 L242.90,307.85 L242.90,308.90 L242.30,308.90 L242.30,307.85 L242.30,306.80 L242.30,305.76 L242.30,304.71 L242.30,303.66 L242.30,302.62 L242.30,301.57 L242.30,300.52 L242.30,299.47 L242.17,298.42 L241.99,297.38 L241.77,296.33 L241.52,295.28 L241.24,294.24 L240.96,293.19 L240.68,292.14 L240.43,291.09 L240.21,290.04 L240.04,289.00 L239.91,287.95 L239.84,286.90 L239.80,285.86 L239.79,284.81 L239.80,283.76 L239.85,282.71 L239.96,281.66 L240.13,280.62 L240.38,279.57 L240.68,278.52 L241.02,277.48 L241.36,276.43 L241.67,275.38 L241.95,274.33 L242.17,273.28 L242.30,272.24 L242.30,271.19 L242.30,270.14 L242.30,269.10 L242.30,268.05 L242.30,267.00Z" fill="#8585ff" stroke="#3a3a3a" stroke-width="0.55" stroke-linejoin="round"/>
<path d="M260.70,304.20 L260.70,305.18 L260.70,306.15 L260.70,307.12 L260.70,308.10 L260.70,309.07 L260.70,310.05 L260.82,311.02 L261.06,312.00 L261.38,312.97 L261.74,313.95 L262.12,314.93 L262.48,315.90 L262.78,316.88 L263.01,317.85 L263.14,318.82 L263.20,319.80 L263.21,320.77 L263.20,321.75 L263.16,322.72 L263.08,323.70 L262.96,324.68 L262.79,325.65 L262.57,326.62 L262.32,327.60 L262.05,328.57 L261.77,329.55 L261.49,330.52 L261.24,331.50 L261.02,332.47 L260.84,333.45 L260.70,334.43 L260.70,335.40 L260.70,336.38 L260.70,337.35 L260.70,338.32 L260.70,339.30 L260.70,340.27 L260.70,341.25 L260.70,342.22 L260.70,343.20 L260.10,343.20 L260.10,342.22 L260.10,341.25 L260.10,340.27 L260.10,339.30 L260.10,338.32 L260.10,337.35 L260.10,336.38 L260.10,335.40 L260.10,334.43 L259.96,333.45 L259.78,332.47 L259.56,331.50 L259.31,330.52 L259.03,329.55 L258.75,328.57 L258.48,327.60 L258.23,326.62 L258.01,325.65 L257.84,324.68 L257.72,323.70 L257.64,322.72 L257.60,321.75 L257.59,320.77 L257.60,319.80 L257.66,318.82 L257.79,317.85 L258.02,316.88 L258.32,315.90 L258.68,314.93 L259.06,313.95 L259.42,312.97 L259.74,312.00 L259.98,311.02 L260.10,310.05 L260.10,309.07 L260.10,308.10 L260.10,307.12 L260.10,306.15 L260.10,305.18 L260.10,304.20Z" fill="#ff8585" stroke="#3a3a3a" stroke-width="0.55" stroke-linejoin="round"/>
<path d="M267.60,315.80 L267.60,316.53 L267.60,317.25 L267.60,317.98 L267.60,318.70 L267.60,319.43 L267.60,320.15 L267.74,320.88 L267.93,321.60 L268.17,322.32 L268.46,323.05 L268.77,323.78 L269.09,324.50 L269.41,325.23 L269.71,325.95 L269.96,326.68 L270.16,327.40 L270.30,328.12 L270.38,328.85 L270.42,329.57 L270.43,330.30 L270.43,331.03 L270.40,331.75 L270.34,332.48 L270.23,333.20 L270.08,333.93 L269.89,334.65 L269.66,335.38 L269.40,336.10 L269.12,336.82 L268.83,337.55 L268.55,338.28 L268.29,339.00 L268.06,339.73 L267.86,340.45 L267.70,341.18 L267.60,341.90 L267.60,342.62 L267.60,343.35 L267.60,344.07 L267.60,344.80 L267.00,344.80 L267.00,344.07 L267.00,343.35 L267.00,342.62 L267.00,341.90 L266.90,341.18 L266.74,340.45 L266.54,339.73 L266.31,339.00 L266.05,338.28 L265.77,337.55 L265.48,336.82 L265.20,336.10 L264.94,335.38 L264.71,334.65 L264.52,333.93 L264.37,333.20 L264.26,332.48 L264.20,331.75 L264.17,331.03 L264.17,330.30 L264.18,329.57 L264.22,328.85 L264.30,328.12 L264.44,327.40 L264.64,326.68 L264.89,325.95 L265.19,325.23 L265.51,324.50 L265.83,323.78 L266.14,323.05 L266.43,322.32 L266.67,321.60 L266.86,320.88 L267.00,320.15 L267.00,319.43 L267.00,318.70 L267.00,317.98 L267.00,317.25 L267.00,316.53 L267.00,315.80Z" fill="#8585ff" stroke="#3a3a3a" stroke-width="0.55" stroke-linejoin="round"/>
<path d="M286.20,312.60 L286.20,313.41 L286.20,314.21 L286.20,315.02 L286.20,315.82 L286.20,316.62 L286.20,317.43 L286.20,318.24 L286.37,319.04 L286.59,319.85 L286.86,320.65 L287.17,321.46 L287.51,322.26 L287.86,323.06 L288.19,323.87 L288.48,324.68 L288.71,325.48 L288.87,326.29 L288.98,327.09 L289.02,327.90 L289.03,328.70 L289.03,329.50 L289.00,330.31 L288.94,331.12 L288.84,331.92 L288.70,332.73 L288.52,333.53 L288.30,334.34 L288.05,335.14 L287.78,335.94 L287.50,336.75 L287.22,337.56 L286.96,338.36 L286.73,339.17 L286.52,339.97 L286.35,340.78 L286.22,341.58 L286.20,342.38 L286.20,343.19 L286.20,344.00 L286.20,344.80 L285.60,344.80 L285.60,344.00 L285.60,343.19 L285.60,342.38 L285.58,341.58 L285.45,340.78 L285.28,339.97 L285.07,339.17 L284.84,338.36 L284.58,337.56 L284.30,336.75 L284.02,335.94 L283.75,335.14 L283.50,334.34 L283.28,333.53 L283.10,332.73 L282.96,331.92 L282.86,331.12 L282.80,330.31 L282.77,329.50 L282.77,328.70 L282.78,327.90 L282.82,327.09 L282.93,326.29 L283.09,325.48 L283.32,324.68 L283.61,323.87 L283.94,323.06 L284.29,322.26 L284.63,321.46 L284.94,320.65 L285.21,319.85 L285.43,319.04 L285.60,318.24 L285.60,317.43 L285.60,316.62 L285.60,315.82 L285.60,315.02 L285.60,314.21 L285.60,313.41 L285.60,312.60Z" fill="#ff8585" stroke="#3a3a3a" stroke-width="0.55" stroke-linejoin="round"/>
<path d="M292.90,316.60 L292.90,317.35 L292.90,318.10 L292.90,318.84 L292.90,319.59 L292.90,320.34 L292.90,321.09 L292.90,321.83 L292.90,322.58 L292.90,323.33 L292.91,324.08 L293.04,324.82 L293.21,325.57 L293.41,326.32 L293.65,327.06 L293.92,327.81 L294.22,328.56 L294.52,329.31 L294.83,330.06 L295.12,330.80 L295.39,331.55 L295.62,332.30 L295.82,333.05 L295.96,333.79 L296.07,334.54 L296.13,335.29 L296.16,336.04 L296.16,336.78 L296.15,337.53 L296.08,338.28 L295.92,339.02 L295.67,339.77 L295.34,340.52 L294.93,341.27 L294.49,342.01 L294.05,342.76 L293.65,343.51 L293.31,344.26 L293.05,345.00 L292.90,345.75 L292.90,346.50 L292.30,346.50 L292.30,345.75 L292.15,345.00 L291.89,344.26 L291.55,343.51 L291.15,342.76 L290.71,342.01 L290.27,341.27 L289.86,340.52 L289.53,339.77 L289.28,339.02 L289.12,338.28 L289.05,337.53 L289.04,336.78 L289.04,336.04 L289.07,335.29 L289.13,334.54 L289.24,333.79 L289.38,333.05 L289.58,332.30 L289.81,331.55 L290.08,330.80 L290.37,330.06 L290.68,329.31 L290.98,328.56 L291.28,327.81 L291.55,327.06 L291.79,326.32 L291.99,325.57 L292.16,324.82 L292.29,324.08 L292.30,323.33 L292.30,322.58 L292.30,321.83 L292.30,321.09 L292.30,320.34 L292.30,319.59 L292.30,318.84 L292.30,318.10 L292.30,317.35 L292.30,316.60Z" fill="#8585ff" stroke="#3a3a3a" stroke-width="0.55" stroke-linejoin="round"/>
<rect x="151.6" y="254.3" width="149.4" height="96.09999999999997" fill="none" stroke="#c9c9c9" stroke-width="0.8"/>
<line x1="151.6" y1="254.3" x2="301.0" y2="254.3" stroke="#9a9a9a" stroke-width="0.8"/>
<line x1="150.2" y1="348.00" x2="151.6" y2="348.00" stroke="#333" stroke-width="0.5"/>
<text x="149.20" y="349.90" font-size="5.2" fill="#4d4d4d" text-anchor="end" font-weight="normal" >0</text>
<line x1="150.2" y1="325.11" x2="151.6" y2="325.11" stroke="#333" stroke-width="0.5"/>
<text x="149.20" y="327.01" font-size="5.2" fill="#4d4d4d" text-anchor="end" font-weight="normal" >3</text>
<line x1="150.2" y1="302.22" x2="151.6" y2="302.22" stroke="#333" stroke-width="0.5"/>
<text x="149.20" y="304.12" font-size="5.2" fill="#4d4d4d" text-anchor="end" font-weight="normal" >6</text>
<line x1="150.2" y1="279.33" x2="151.6" y2="279.33" stroke="#333" stroke-width="0.5"/>
<text x="149.20" y="281.23" font-size="5.2" fill="#4d4d4d" text-anchor="end" font-weight="normal" >9</text>
<line x1="150.2" y1="256.44" x2="151.6" y2="256.44" stroke="#333" stroke-width="0.5"/>
<text x="149.20" y="258.34" font-size="5.2" fill="#4d4d4d" text-anchor="end" font-weight="normal" >12</text>
<line x1="163.0" y1="350.4" x2="163.0" y2="351.79999999999995" stroke="#333" stroke-width="0.5"/>
<text x="163.00" y="357.20" font-size="4.75" fill="#4d4d4d" text-anchor="middle" font-weight="normal" >SNAI1</text>
<line x1="188.6" y1="350.4" x2="188.6" y2="351.79999999999995" stroke="#333" stroke-width="0.5"/>
<text x="188.60" y="357.20" font-size="4.75" fill="#4d4d4d" text-anchor="middle" font-weight="normal" >SNAI2</text>
<line x1="214.0" y1="350.4" x2="214.0" y2="351.79999999999995" stroke="#333" stroke-width="0.5"/>
<text x="214.00" y="357.20" font-size="4.75" fill="#4d4d4d" text-anchor="middle" font-weight="normal" >TWIST1</text>
<line x1="238.8" y1="350.4" x2="238.8" y2="351.79999999999995" stroke="#333" stroke-width="0.5"/>
<text x="238.80" y="357.20" font-size="4.75" fill="#4d4d4d" text-anchor="middle" font-weight="normal" >VIM</text>
<line x1="264.3" y1="350.4" x2="264.3" y2="351.79999999999995" stroke="#333" stroke-width="0.5"/>
<text x="264.30" y="357.20" font-size="4.75" fill="#4d4d4d" text-anchor="middle" font-weight="normal" >ZEB1</text>
<line x1="289.0" y1="350.4" x2="289.0" y2="351.79999999999995" stroke="#333" stroke-width="0.5"/>
<text x="289.00" y="357.20" font-size="4.75" fill="#4d4d4d" text-anchor="middle" font-weight="normal" >ZEB2</text>
<text x="214.80" y="366.20" font-size="5.9" fill="#1a1a1a" text-anchor="middle" font-weight="normal" stroke="#1a1a1a" stroke-width="0.1">variable</text>
<text x="142.60" y="302.20" font-size="5.9" fill="#1a1a1a" text-anchor="middle" font-weight="normal" transform="rotate(-90 142.6 302.2)">value</text>
<text x="163.40" y="258.50" font-size="5.6" fill="#222" text-anchor="middle" font-weight="normal" >****</text>
<text x="189.00" y="258.50" font-size="5.6" fill="#222" text-anchor="middle" font-weight="normal" >**</text>
<text x="214.20" y="258.50" font-size="5.6" fill="#222" text-anchor="middle" font-weight="normal" >****</text>
<text x="239.10" y="258.50" font-size="5.6" fill="#222" text-anchor="middle" font-weight="normal" >****</text>
<text x="264.50" y="258.50" font-size="5.6" fill="#222" text-anchor="middle" font-weight="normal" >****</text>
<text x="289.30" y="258.50" font-size="5.6" fill="#222" text-anchor="middle" font-weight="normal" >****</text>
<text x="305.90" y="292.90" font-size="5.3" fill="#1a1a1a" text-anchor="start" font-weight="bold" textLength="15.9" lengthAdjust="spacingAndGlyphs" >Group</text>
<rect x="304.6" y="298.1" width="8" height="8.2" fill="#ff8585" stroke="#3a3a3a" stroke-width="0.5"/>
<rect x="304.6" y="306.6" width="8" height="8.9" fill="#8585ff" stroke="#3a3a3a" stroke-width="0.5"/>
<text x="315.10" y="303.80" font-size="4.0" fill="#333" text-anchor="start" font-weight="normal" textLength="21.6" lengthAdjust="spacingAndGlyphs" >NNMT-high</text>
<text x="315.10" y="312.90" font-size="4.0" fill="#333" text-anchor="start" font-weight="normal" textLength="20.0" lengthAdjust="spacingAndGlyphs" >NNMT-low</text>
<text x="344.00" y="14.20" font-size="13.4" fill="#111" text-anchor="start" font-weight="normal" >d.</text>
<defs><linearGradient id="hmfade" x1="0" y1="0" x2="0" y2="1"><stop offset="0" stop-color="#808080" stop-opacity="0.55"/><stop offset="1" stop-color="#808080" stop-opacity="0"/></linearGradient><linearGradient id="hmfade2" x1="0" y1="0" x2="0" y2="1"><stop offset="0" stop-color="#8a8a8a" stop-opacity="0.6"/><stop offset="1" stop-color="#8a8a8a" stop-opacity="0"/></linearGradient>
<filter id="hmf" x="360.0" y="27.6" width="147.5" height="207.4" filterUnits="userSpaceOnUse" color-interpolation-filters="sRGB">
<feTurbulence type="fractalNoise" baseFrequency="0.42 0.3" numOctaves="2" seed="5" result="n"/>
<feColorMatrix in="n" type="matrix" values="1 0 0 0 0  1 0 0 0 0  1 0 0 0 0  0 0 0 0 1" result="ng"/>
<feTurbulence type="fractalNoise" baseFrequency="0.09 0.05" numOctaves="2" seed="9" result="n2"/>
<feColorMatrix in="n2" type="matrix" values="1 0 0 0 0  1 0 0 0 0  1 0 0 0 0  0 0 0 0 1" result="ng2"/>
<feComposite in="SourceGraphic" in2="ng" operator="arithmetic" k1="0" k2="1" k3="0.45" k4="-0.225" result="v0"/>
<feComposite in="v0" in2="ng2" operator="arithmetic" k1="0" k2="1" k3="0.22" k4="-0.11" result="v"/>
<feGaussianBlur in="v" stdDeviation="0.45" result="vb"/>
<feComponentTransfer in="vb">
<feFuncR type="table" tableValues="0 1 1"/>
<feFuncG type="table" tableValues="0 1 0"/>
<feFuncB type="table" tableValues="1 1 0"/>
</feComponentTransfer>
</filter></defs><g filter="url(#hmf)" shape-rendering="crispEdges"><rect x="360.0" y="27.6" width="1.05" height="62.4" fill="rgb(162,162,162)"/><rect x="360.0" y="90.0" width="1.05" height="84.0" fill="rgb(175,175,175)"/><rect x="360.0" y="174.0" width="1.05" height="61.0" fill="rgb(151,151,151)"/><rect x="361.0" y="27.6" width="1.05" height="62.4" fill="rgb(177,177,177)"/><rect x="361.0" y="90.0" width="1.05" height="84.0" fill="rgb(190,190,190)"/><rect x="361.0" y="174.0" width="1.05" height="61.0" fill="rgb(166,166,166)"/><rect x="362.0" y="27.6" width="1.05" height="62.4" fill="rgb(183,183,183)"/><rect x="362.0" y="90.0" width="1.05" height="84.0" fill="rgb(196,196,196)"/><rect x="362.0" y="174.0" width="1.05" height="61.0" fill="rgb(171,171,171)"/><rect x="363.0" y="27.6" width="1.05" height="62.4" fill="rgb(169,169,169)"/><rect x="363.0" y="90.0" width="1.05" height="84.0" fill="rgb(182,182,182)"/><rect x="363.0" y="174.0" width="1.05" height="61.0" fill="rgb(157,157,157)"/><rect x="364.0" y="27.6" width="1.05" height="62.4" fill="rgb(161,161,161)"/><rect x="364.0" y="90.0" width="1.05" height="84.0" fill="rgb(174,174,174)"/><rect x="364.0" y="174.0" width="1.05" height="61.0" fill="rgb(150,150,150)"/><rect x="365.0" y="27.6" width="1.05" height="62.4" fill="rgb(173,173,173)"/><rect x="365.0" y="90.0" width="1.05" height="84.0" fill="rgb(186,186,186)"/><rect x="365.0" y="174.0" width="1.05" height="61.0" fill="rgb(162,162,162)"/><rect x="366.0" y="27.6" width="1.05" height="62.4" fill="rgb(169,169,169)"/><rect x="366.0" y="90.0" width="1.05" height="84.0" fill="rgb(177,177,177)"/><rect x="366.0" y="174.0" width="1.05" height="61.0" fill="rgb(150,150,150)"/><rect x="367.0" y="27.6" width="1.05" height="62.4" fill="rgb(174,174,174)"/><rect x="367.0" y="90.0" width="1.05" height="84.0" fill="rgb(182,182,182)"/><rect x="367.0" y="174.0" width="1.05" height="61.0" fill="rgb(156,156,156)"/><rect x="368.0" y="27.6" width="1.05" height="62.4" fill="rgb(153,153,153)"/><rect x="368.0" y="90.0" width="1.05" height="84.0" fill="rgb(161,161,161)"/><rect x="368.0" y="174.0" width="1.05" height="61.0" fill="rgb(135,135,135)"/><rect x="369.0" y="27.6" width="1.05" height="62.4" fill="rgb(152,152,152)"/><rect x="369.0" y="90.0" width="1.05" height="84.0" fill="rgb(161,161,161)"/><rect x="369.0" y="174.0" width="1.05" height="61.0" fill="rgb(134,134,134)"/><rect x="370.0" y="27.6" width="1.05" height="62.4" fill="rgb(171,171,171)"/><rect x="370.0" y="90.0" width="1.05" height="84.0" fill="rgb(179,179,179)"/><rect x="370.0" y="174.0" width="1.05" height="61.0" fill="rgb(152,152,152)"/><rect x="371.0" y="27.6" width="1.05" height="62.4" fill="rgb(169,169,169)"/><rect x="371.0" y="90.0" width="1.05" height="84.0" fill="rgb(177,177,177)"/><rect x="371.0" y="174.0" width="1.05" height="61.0" fill="rgb(150,150,150)"/><rect x="372.0" y="27.6" width="1.05" height="62.4" fill="rgb(164,164,164)"/><rect x="372.0" y="90.0" width="1.05" height="84.0" fill="rgb(176,176,176)"/><rect x="372.0" y="174.0" width="1.05" height="61.0" fill="rgb(154,154,154)"/><rect x="373.0" y="27.6" width="1.05" height="62.4" fill="rgb(159,159,159)"/><rect x="373.0" y="90.0" width="1.05" height="84.0" fill="rgb(171,171,171)"/><rect x="373.0" y="174.0" width="1.05" height="61.0" fill="rgb(149,149,149)"/><rect x="374.0" y="27.6" width="1.05" height="62.4" fill="rgb(149,149,149)"/><rect x="374.0" y="90.0" width="1.05" height="84.0" fill="rgb(161,161,161)"/><rect x="374.0" y="174.0" width="1.05" height="61.0" fill="rgb(139,139,139)"/><rect x="375.0" y="27.6" width="1.05" height="62.4" fill="rgb(147,147,147)"/><rect x="375.0" y="90.0" width="1.05" height="84.0" fill="rgb(160,160,160)"/><rect x="375.0" y="174.0" width="1.05" height="61.0" fill="rgb(137,137,137)"/><rect x="376.0" y="27.6" width="1.05" height="62.4" fill="rgb(174,174,174)"/><rect x="376.0" y="90.0" width="1.05" height="84.0" fill="rgb(186,186,186)"/><rect x="376.0" y="174.0" width="1.05" height="61.0" fill="rgb(163,163,163)"/><rect x="377.0" y="27.6" width="1.05" height="62.4" fill="rgb(147,147,147)"/><rect x="377.0" y="90.0" width="1.05" height="84.0" fill="rgb(160,160,160)"/><rect x="377.0" y="174.0" width="1.05" height="61.0" fill="rgb(137,137,137)"/><rect x="378.0" y="27.6" width="1.05" height="62.4" fill="rgb(143,143,143)"/><rect x="378.0" y="90.0" width="1.05" height="84.0" fill="rgb(155,155,155)"/><rect x="378.0" y="174.0" width="1.05" height="61.0" fill="rgb(133,133,133)"/><rect x="379.0" y="27.6" width="1.05" height="62.4" fill="rgb(144,144,144)"/><rect x="379.0" y="90.0" width="1.05" height="84.0" fill="rgb(156,156,156)"/><rect x="379.0" y="174.0" width="1.05" height="61.0" fill="rgb(139,139,139)"/><rect x="380.0" y="27.6" width="1.05" height="62.4" fill="rgb(155,155,155)"/><rect x="380.0" y="90.0" width="1.05" height="84.0" fill="rgb(167,167,167)"/><rect x="380.0" y="174.0" width="1.05" height="61.0" fill="rgb(151,151,151)"/><rect x="381.0" y="27.6" width="1.05" height="62.4" fill="rgb(155,155,155)"/><rect x="381.0" y="90.0" width="1.05" height="84.0" fill="rgb(168,168,168)"/><rect x="381.0" y="174.0" width="1.05" height="61.0" fill="rgb(151,151,151)"/><rect x="382.0" y="27.6" width="1.05" height="62.4" fill="rgb(151,151,151)"/><rect x="382.0" y="90.0" width="1.05" height="84.0" fill="rgb(163,163,163)"/><rect x="382.0" y="174.0" width="1.05" height="61.0" fill="rgb(147,147,147)"/><rect x="383.0" y="27.6" width="1.05" height="62.4" fill="rgb(153,153,153)"/><rect x="383.0" y="90.0" width="1.05" height="84.0" fill="rgb(166,166,166)"/><rect x="383.0" y="174.0" width="1.05" height="61.0" fill="rgb(149,149,149)"/><rect x="384.0" y="27.6" width="1.05" height="62.4" fill="rgb(157,157,157)"/><rect x="384.0" y="90.0" width="1.05" height="84.0" fill="rgb(169,169,169)"/><rect x="384.0" y="174.0" width="1.05" height="61.0" fill="rgb(152,152,152)"/><rect x="385.0" y="27.6" width="1.05" height="62.4" fill="rgb(185,185,185)"/><rect x="385.0" y="90.0" width="1.05" height="84.0" fill="rgb(195,195,195)"/><rect x="385.0" y="174.0" width="1.05" height="61.0" fill="rgb(164,164,164)"/><rect x="386.0" y="27.6" width="1.05" height="62.4" fill="rgb(189,189,189)"/><rect x="386.0" y="90.0" width="1.05" height="84.0" fill="rgb(199,199,199)"/><rect x="386.0" y="174.0" width="1.05" height="61.0" fill="rgb(168,168,168)"/><rect x="387.0" y="27.6" width="1.05" height="62.4" fill="rgb(180,180,180)"/><rect x="387.0" y="90.0" width="1.05" height="84.0" fill="rgb(191,191,191)"/><rect x="387.0" y="174.0" width="1.05" height="61.0" fill="rgb(160,160,160)"/><rect x="388.0" y="27.6" width="1.05" height="62.4" fill="rgb(185,185,185)"/><rect x="388.0" y="90.0" width="1.05" height="84.0" fill="rgb(198,198,198)"/><rect x="388.0" y="174.0" width="1.05" height="61.0" fill="rgb(150,150,150)"/><rect x="389.0" y="27.6" width="1.05" height="62.4" fill="rgb(207,207,207)"/><rect x="389.0" y="90.0" width="1.05" height="84.0" fill="rgb(221,221,221)"/><rect x="389.0" y="174.0" width="1.05" height="61.0" fill="rgb(173,173,173)"/><rect x="390.0" y="27.6" width="1.05" height="62.4" fill="rgb(188,188,188)"/><rect x="390.0" y="90.0" width="1.05" height="84.0" fill="rgb(201,201,201)"/><rect x="390.0" y="174.0" width="1.05" height="61.0" fill="rgb(153,153,153)"/><rect x="391.0" y="27.6" width="1.05" height="62.4" fill="rgb(199,199,199)"/><rect x="391.0" y="90.0" width="1.05" height="84.0" fill="rgb(213,213,213)"/><rect x="391.0" y="174.0" width="1.05" height="61.0" fill="rgb(165,165,165)"/><rect x="392.0" y="27.6" width="1.05" height="62.4" fill="rgb(187,187,187)"/><rect x="392.0" y="90.0" width="1.05" height="84.0" fill="rgb(201,201,201)"/><rect x="392.0" y="174.0" width="1.05" height="61.0" fill="rgb(153,153,153)"/><rect x="393.0" y="27.6" width="1.05" height="62.4" fill="rgb(201,201,201)"/><rect x="393.0" y="90.0" width="1.05" height="84.0" fill="rgb(214,214,214)"/><rect x="393.0" y="174.0" width="1.05" height="61.0" fill="rgb(166,166,166)"/><rect x="394.0" y="27.6" width="1.05" height="62.4" fill="rgb(194,194,194)"/><rect x="394.0" y="90.0" width="1.05" height="84.0" fill="rgb(207,207,207)"/><rect x="394.0" y="174.0" width="1.05" height="61.0" fill="rgb(159,159,159)"/><rect x="395.0" y="27.6" width="1.05" height="62.4" fill="rgb(203,203,203)"/><rect x="395.0" y="90.0" width="1.05" height="84.0" fill="rgb(216,216,216)"/><rect x="395.0" y="174.0" width="1.05" height="61.0" fill="rgb(168,168,168)"/><rect x="396.0" y="27.6" width="1.05" height="62.4" fill="rgb(186,186,186)"/><rect x="396.0" y="90.0" width="1.05" height="84.0" fill="rgb(190,190,190)"/><rect x="396.0" y="174.0" width="1.05" height="61.0" fill="rgb(168,168,168)"/><rect x="397.0" y="27.6" width="1.05" height="62.4" fill="rgb(156,156,156)"/><rect x="397.0" y="90.0" width="1.05" height="84.0" fill="rgb(160,160,160)"/><rect x="397.0" y="174.0" width="1.05" height="61.0" fill="rgb(137,137,137)"/><rect x="398.0" y="27.6" width="1.05" height="62.4" fill="rgb(164,164,164)"/><rect x="398.0" y="90.0" width="1.05" height="84.0" fill="rgb(168,168,168)"/><rect x="398.0" y="174.0" width="1.05" height="61.0" fill="rgb(145,145,145)"/><rect x="399.0" y="27.6" width="1.05" height="62.4" fill="rgb(144,144,144)"/><rect x="399.0" y="90.0" width="1.05" height="84.0" fill="rgb(148,148,148)"/><rect x="399.0" y="174.0" width="1.05" height="61.0" fill="rgb(126,126,126)"/><rect x="400.0" y="27.6" width="1.05" height="62.4" fill="rgb(139,139,139)"/><rect x="400.0" y="90.0" width="1.05" height="84.0" fill="rgb(141,141,141)"/><rect x="400.0" y="174.0" width="1.05" height="61.0" fill="rgb(117,117,117)"/><rect x="401.0" y="27.6" width="1.05" height="62.4" fill="rgb(148,148,148)"/><rect x="401.0" y="90.0" width="1.05" height="84.0" fill="rgb(150,150,150)"/><rect x="401.0" y="174.0" width="1.05" height="61.0" fill="rgb(125,125,125)"/><rect x="402.0" y="27.6" width="1.05" height="62.4" fill="rgb(141,141,141)"/><rect x="402.0" y="90.0" width="1.05" height="84.0" fill="rgb(143,143,143)"/><rect x="402.0" y="174.0" width="1.05" height="61.0" fill="rgb(118,118,118)"/><rect x="403.0" y="27.6" width="1.05" height="62.4" fill="rgb(145,145,145)"/><rect x="403.0" y="90.0" width="1.05" height="84.0" fill="rgb(147,147,147)"/><rect x="403.0" y="174.0" width="1.05" height="61.0" fill="rgb(123,123,123)"/><rect x="404.0" y="27.6" width="1.05" height="62.4" fill="rgb(143,143,143)"/><rect x="404.0" y="90.0" width="1.05" height="84.0" fill="rgb(145,145,145)"/><rect x="404.0" y="174.0" width="1.05" height="61.0" fill="rgb(120,120,120)"/><rect x="405.0" y="27.6" width="0.35" height="62.4" fill="rgb(133,133,133)"/><rect x="405.0" y="90.0" width="0.35" height="84.0" fill="rgb(135,135,135)"/><rect x="405.0" y="174.0" width="0.35" height="61.0" fill="rgb(110,110,110)"/><rect x="406.9" y="27.6" width="1.05" height="62.4" fill="rgb(96,96,96)"/><rect x="406.9" y="90.0" width="1.05" height="84.0" fill="rgb(82,82,82)"/><rect x="406.9" y="174.0" width="1.05" height="61.0" fill="rgb(74,74,74)"/><rect x="407.9" y="27.6" width="1.05" height="62.4" fill="rgb(83,83,83)"/><rect x="407.9" y="90.0" width="1.05" height="84.0" fill="rgb(69,69,69)"/><rect x="407.9" y="174.0" width="1.05" height="61.0" fill="rgb(61,61,61)"/><rect x="408.9" y="27.6" width="1.05" height="62.4" fill="rgb(108,108,108)"/><rect x="408.9" y="90.0" width="1.05" height="84.0" fill="rgb(94,94,94)"/><rect x="408.9" y="174.0" width="1.05" height="61.0" fill="rgb(86,86,86)"/><rect x="409.9" y="27.6" width="1.05" height="62.4" fill="rgb(86,86,86)"/><rect x="409.9" y="90.0" width="1.05" height="84.0" fill="rgb(72,72,72)"/><rect x="409.9" y="174.0" width="1.05" height="61.0" fill="rgb(64,64,64)"/><rect x="410.9" y="27.6" width="1.05" height="62.4" fill="rgb(97,97,97)"/><rect x="410.9" y="90.0" width="1.05" height="84.0" fill="rgb(83,83,83)"/><rect x="410.9" y="174.0" width="1.05" height="61.0" fill="rgb(75,75,75)"/><rect x="411.9" y="27.6" width="0.15" height="62.4" fill="rgb(91,91,91)"/><rect x="411.9" y="90.0" width="0.15" height="84.0" fill="rgb(77,77,77)"/><rect x="411.9" y="174.0" width="0.15" height="61.0" fill="rgb(68,68,68)"/><rect x="412.0" y="27.6" width="1.05" height="62.4" fill="rgb(131,131,131)"/><rect x="412.0" y="90.0" width="1.05" height="84.0" fill="rgb(116,116,116)"/><rect x="412.0" y="174.0" width="1.05" height="61.0" fill="rgb(126,126,126)"/><rect x="413.0" y="27.6" width="1.05" height="62.4" fill="rgb(117,117,117)"/><rect x="413.0" y="90.0" width="1.05" height="84.0" fill="rgb(102,102,102)"/><rect x="413.0" y="174.0" width="1.05" height="61.0" fill="rgb(112,112,112)"/><rect x="414.0" y="27.6" width="1.05" height="62.4" fill="rgb(132,132,132)"/><rect x="414.0" y="90.0" width="1.05" height="84.0" fill="rgb(116,116,116)"/><rect x="414.0" y="174.0" width="1.05" height="61.0" fill="rgb(126,126,126)"/><rect x="415.0" y="27.6" width="1.05" height="62.4" fill="rgb(121,121,121)"/><rect x="415.0" y="90.0" width="1.05" height="84.0" fill="rgb(106,106,106)"/><rect x="415.0" y="174.0" width="1.05" height="61.0" fill="rgb(116,116,116)"/><rect x="416.0" y="27.6" width="1.05" height="62.4" fill="rgb(134,134,134)"/><rect x="416.0" y="90.0" width="1.05" height="84.0" fill="rgb(119,119,119)"/><rect x="416.0" y="174.0" width="1.05" height="61.0" fill="rgb(129,129,129)"/><rect x="417.0" y="27.6" width="1.05" height="62.4" fill="rgb(128,128,128)"/><rect x="417.0" y="90.0" width="1.05" height="84.0" fill="rgb(113,113,113)"/><rect x="417.0" y="174.0" width="1.05" height="61.0" fill="rgb(123,123,123)"/><rect x="418.0" y="27.6" width="1.05" height="62.4" fill="rgb(124,124,124)"/><rect x="418.0" y="90.0" width="1.05" height="84.0" fill="rgb(108,108,108)"/><rect x="418.0" y="174.0" width="1.05" height="61.0" fill="rgb(119,119,119)"/><rect x="419.0" y="27.6" width="1.05" height="62.4" fill="rgb(115,115,115)"/><rect x="419.0" y="90.0" width="1.05" height="84.0" fill="rgb(100,100,100)"/><rect x="419.0" y="174.0" width="1.05" height="61.0" fill="rgb(110,110,110)"/><rect x="420.0" y="27.6" width="1.05" height="62.4" fill="rgb(143,143,143)"/><rect x="420.0" y="90.0" width="1.05" height="84.0" fill="rgb(130,130,130)"/><rect x="420.0" y="174.0" width="1.05" height="61.0" fill="rgb(155,155,155)"/><rect x="421.0" y="27.6" width="1.05" height="62.4" fill="rgb(140,140,140)"/><rect x="421.0" y="90.0" width="1.05" height="84.0" fill="rgb(128,128,128)"/><rect x="421.0" y="174.0" width="1.05" height="61.0" fill="rgb(152,152,152)"/><rect x="422.0" y="27.6" width="1.05" height="62.4" fill="rgb(151,151,151)"/><rect x="422.0" y="90.0" width="1.05" height="84.0" fill="rgb(138,138,138)"/><rect x="422.0" y="174.0" width="1.05" height="61.0" fill="rgb(163,163,163)"/><rect x="423.0" y="27.6" width="1.05" height="62.4" fill="rgb(132,132,132)"/><rect x="423.0" y="90.0" width="1.05" height="84.0" fill="rgb(120,120,120)"/><rect x="423.0" y="174.0" width="1.05" height="61.0" fill="rgb(144,144,144)"/><rect x="424.0" y="27.6" width="1.05" height="62.4" fill="rgb(141,141,141)"/><rect x="424.0" y="90.0" width="1.05" height="84.0" fill="rgb(129,129,129)"/><rect x="424.0" y="174.0" width="1.05" height="61.0" fill="rgb(153,153,153)"/><rect x="425.0" y="27.6" width="1.05" height="62.4" fill="rgb(140,140,140)"/><rect x="425.0" y="90.0" width="1.05" height="84.0" fill="rgb(128,128,128)"/><rect x="425.0" y="174.0" width="1.05" height="61.0" fill="rgb(153,153,153)"/><rect x="426.0" y="27.6" width="1.05" height="62.4" fill="rgb(138,138,138)"/><rect x="426.0" y="90.0" width="1.05" height="84.0" fill="rgb(126,126,126)"/><rect x="426.0" y="174.0" width="1.05" height="61.0" fill="rgb(150,150,150)"/><rect x="427.0" y="27.6" width="1.05" height="62.4" fill="rgb(138,138,138)"/><rect x="427.0" y="90.0" width="1.05" height="84.0" fill="rgb(125,125,125)"/><rect x="427.0" y="174.0" width="1.05" height="61.0" fill="rgb(150,150,150)"/><rect x="428.0" y="27.6" width="1.05" height="62.4" fill="rgb(137,137,137)"/><rect x="428.0" y="90.0" width="1.05" height="84.0" fill="rgb(125,125,125)"/><rect x="428.0" y="174.0" width="1.05" height="61.0" fill="rgb(150,150,150)"/><rect x="429.0" y="27.6" width="1.05" height="62.4" fill="rgb(130,130,130)"/><rect x="429.0" y="90.0" width="1.05" height="84.0" fill="rgb(118,118,118)"/><rect x="429.0" y="174.0" width="1.05" height="61.0" fill="rgb(142,142,142)"/><rect x="430.0" y="27.6" width="1.05" height="62.4" fill="rgb(126,126,126)"/><rect x="430.0" y="90.0" width="1.05" height="84.0" fill="rgb(114,114,114)"/><rect x="430.0" y="174.0" width="1.05" height="61.0" fill="rgb(139,139,139)"/><rect x="431.0" y="27.6" width="1.05" height="62.4" fill="rgb(132,132,132)"/><rect x="431.0" y="90.0" width="1.05" height="84.0" fill="rgb(120,120,120)"/><rect x="431.0" y="174.0" width="1.05" height="61.0" fill="rgb(144,144,144)"/><rect x="432.0" y="27.6" width="1.05" height="62.4" fill="rgb(133,133,133)"/><rect x="432.0" y="90.0" width="1.05" height="84.0" fill="rgb(121,121,121)"/><rect x="432.0" y="174.0" width="1.05" height="61.0" fill="rgb(127,127,127)"/><rect x="433.0" y="27.6" width="1.05" height="62.4" fill="rgb(141,141,141)"/><rect x="433.0" y="90.0" width="1.05" height="84.0" fill="rgb(129,129,129)"/><rect x="433.0" y="174.0" width="1.05" height="61.0" fill="rgb(135,135,135)"/><rect x="434.0" y="27.6" width="1.05" height="62.4" fill="rgb(136,136,136)"/><rect x="434.0" y="90.0" width="1.05" height="84.0" fill="rgb(124,124,124)"/><rect x="434.0" y="174.0" width="1.05" height="61.0" fill="rgb(130,130,130)"/><rect x="435.0" y="27.6" width="1.05" height="62.4" fill="rgb(137,137,137)"/><rect x="435.0" y="90.0" width="1.05" height="84.0" fill="rgb(125,125,125)"/><rect x="435.0" y="174.0" width="1.05" height="61.0" fill="rgb(131,131,131)"/><rect x="436.0" y="27.6" width="1.05" height="62.4" fill="rgb(135,135,135)"/><rect x="436.0" y="90.0" width="1.05" height="84.0" fill="rgb(122,122,122)"/><rect x="436.0" y="174.0" width="1.05" height="61.0" fill="rgb(129,129,129)"/><rect x="437.0" y="27.6" width="1.05" height="62.4" fill="rgb(134,134,134)"/><rect x="437.0" y="90.0" width="1.05" height="84.0" fill="rgb(122,122,122)"/><rect x="437.0" y="174.0" width="1.05" height="61.0" fill="rgb(128,128,128)"/><rect x="438.0" y="27.6" width="1.05" height="62.4" fill="rgb(129,129,129)"/><rect x="438.0" y="90.0" width="1.05" height="84.0" fill="rgb(117,117,117)"/><rect x="438.0" y="174.0" width="1.05" height="61.0" fill="rgb(123,123,123)"/><rect x="439.0" y="27.6" width="1.05" height="62.4" fill="rgb(135,135,135)"/><rect x="439.0" y="90.0" width="1.05" height="84.0" fill="rgb(122,122,122)"/><rect x="439.0" y="174.0" width="1.05" height="61.0" fill="rgb(128,128,128)"/><rect x="440.0" y="27.6" width="1.05" height="62.4" fill="rgb(123,123,123)"/><rect x="440.0" y="90.0" width="1.05" height="84.0" fill="rgb(113,113,113)"/><rect x="440.0" y="174.0" width="1.05" height="61.0" fill="rgb(117,117,117)"/><rect x="441.0" y="27.6" width="1.05" height="62.4" fill="rgb(104,104,104)"/><rect x="441.0" y="90.0" width="1.05" height="84.0" fill="rgb(94,94,94)"/><rect x="441.0" y="174.0" width="1.05" height="61.0" fill="rgb(98,98,98)"/><rect x="442.0" y="27.6" width="1.05" height="62.4" fill="rgb(101,101,101)"/><rect x="442.0" y="90.0" width="1.05" height="84.0" fill="rgb(91,91,91)"/><rect x="442.0" y="174.0" width="1.05" height="61.0" fill="rgb(95,95,95)"/><rect x="443.0" y="27.6" width="0.35" height="62.4" fill="rgb(125,125,125)"/><rect x="443.0" y="90.0" width="0.35" height="84.0" fill="rgb(115,115,115)"/><rect x="443.0" y="174.0" width="0.35" height="61.0" fill="rgb(119,119,119)"/><rect x="443.3" y="27.6" width="1.05" height="62.4" fill="rgb(79,79,79)"/><rect x="443.3" y="90.0" width="1.05" height="84.0" fill="rgb(62,62,62)"/><rect x="443.3" y="174.0" width="1.05" height="61.0" fill="rgb(67,67,67)"/><rect x="444.3" y="27.6" width="1.05" height="62.4" fill="rgb(85,85,85)"/><rect x="444.3" y="90.0" width="1.05" height="84.0" fill="rgb(69,69,69)"/><rect x="444.3" y="174.0" width="1.05" height="61.0" fill="rgb(73,73,73)"/><rect x="445.3" y="27.6" width="1.05" height="62.4" fill="rgb(85,85,85)"/><rect x="445.3" y="90.0" width="1.05" height="84.0" fill="rgb(68,68,68)"/><rect x="445.3" y="174.0" width="1.05" height="61.0" fill="rgb(72,72,72)"/><rect x="446.3" y="27.6" width="1.05" height="62.4" fill="rgb(66,66,66)"/><rect x="446.3" y="90.0" width="1.05" height="84.0" fill="rgb(50,50,50)"/><rect x="446.3" y="174.0" width="1.05" height="61.0" fill="rgb(54,54,54)"/><rect x="447.3" y="27.6" width="1.05" height="62.4" fill="rgb(99,99,99)"/><rect x="447.3" y="90.0" width="1.05" height="84.0" fill="rgb(83,83,83)"/><rect x="447.3" y="174.0" width="1.05" height="61.0" fill="rgb(87,87,87)"/><rect x="448.3" y="27.6" width="1.05" height="62.4" fill="rgb(93,93,93)"/><rect x="448.3" y="90.0" width="1.05" height="84.0" fill="rgb(76,76,76)"/><rect x="448.3" y="174.0" width="1.05" height="61.0" fill="rgb(81,81,81)"/><rect x="449.3" y="27.6" width="1.05" height="62.4" fill="rgb(78,78,78)"/><rect x="449.3" y="90.0" width="1.05" height="84.0" fill="rgb(62,62,62)"/><rect x="449.3" y="174.0" width="1.05" height="61.0" fill="rgb(66,66,66)"/><rect x="450.3" y="27.6" width="1.05" height="62.4" fill="rgb(83,83,83)"/><rect x="450.3" y="90.0" width="1.05" height="84.0" fill="rgb(67,67,67)"/><rect x="450.3" y="174.0" width="1.05" height="61.0" fill="rgb(71,71,71)"/><rect x="451.3" y="27.6" width="1.05" height="62.4" fill="rgb(78,78,78)"/><rect x="451.3" y="90.0" width="1.05" height="84.0" fill="rgb(61,61,61)"/><rect x="451.3" y="174.0" width="1.05" height="61.0" fill="rgb(65,65,65)"/><rect x="452.3" y="27.6" width="1.05" height="62.4" fill="rgb(68,68,68)"/><rect x="452.3" y="90.0" width="1.05" height="84.0" fill="rgb(52,52,52)"/><rect x="452.3" y="174.0" width="1.05" height="61.0" fill="rgb(56,56,56)"/><rect x="453.3" y="27.6" width="1.05" height="62.4" fill="rgb(75,75,75)"/><rect x="453.3" y="90.0" width="1.05" height="84.0" fill="rgb(59,59,59)"/><rect x="453.3" y="174.0" width="1.05" height="61.0" fill="rgb(63,63,63)"/><rect x="454.3" y="27.6" width="0.75" height="62.4" fill="rgb(80,80,80)"/><rect x="454.3" y="90.0" width="0.75" height="84.0" fill="rgb(64,64,64)"/><rect x="454.3" y="174.0" width="0.75" height="61.0" fill="rgb(68,68,68)"/><rect x="455.0" y="27.6" width="1.05" height="62.4" fill="rgb(102,102,102)"/><rect x="455.0" y="90.0" width="1.05" height="84.0" fill="rgb(92,92,92)"/><rect x="455.0" y="174.0" width="1.05" height="61.0" fill="rgb(101,101,101)"/><rect x="456.0" y="27.6" width="1.05" height="62.4" fill="rgb(98,98,98)"/><rect x="456.0" y="90.0" width="1.05" height="84.0" fill="rgb(88,88,88)"/><rect x="456.0" y="174.0" width="1.05" height="61.0" fill="rgb(97,97,97)"/><rect x="457.0" y="27.6" width="1.05" height="62.4" fill="rgb(92,92,92)"/><rect x="457.0" y="90.0" width="1.05" height="84.0" fill="rgb(82,82,82)"/><rect x="457.0" y="174.0" width="1.05" height="61.0" fill="rgb(91,91,91)"/><rect x="458.0" y="27.6" width="1.05" height="62.4" fill="rgb(104,104,104)"/><rect x="458.0" y="90.0" width="1.05" height="84.0" fill="rgb(94,94,94)"/><rect x="458.0" y="174.0" width="1.05" height="61.0" fill="rgb(103,103,103)"/><rect x="459.0" y="27.6" width="1.05" height="62.4" fill="rgb(85,85,85)"/><rect x="459.0" y="90.0" width="1.05" height="84.0" fill="rgb(75,75,75)"/><rect x="459.0" y="174.0" width="1.05" height="61.0" fill="rgb(84,84,84)"/><rect x="460.0" y="27.6" width="1.05" height="62.4" fill="rgb(99,99,99)"/><rect x="460.0" y="90.0" width="1.05" height="84.0" fill="rgb(89,89,89)"/><rect x="460.0" y="174.0" width="1.05" height="61.0" fill="rgb(98,98,98)"/><rect x="461.0" y="27.6" width="1.05" height="62.4" fill="rgb(102,102,102)"/><rect x="461.0" y="90.0" width="1.05" height="84.0" fill="rgb(92,92,92)"/><rect x="461.0" y="174.0" width="1.05" height="61.0" fill="rgb(101,101,101)"/><rect x="462.0" y="27.6" width="1.05" height="62.4" fill="rgb(120,120,120)"/><rect x="462.0" y="90.0" width="1.05" height="84.0" fill="rgb(113,113,113)"/><rect x="462.0" y="174.0" width="1.05" height="61.0" fill="rgb(119,119,119)"/><rect x="463.0" y="27.6" width="1.05" height="62.4" fill="rgb(106,106,106)"/><rect x="463.0" y="90.0" width="1.05" height="84.0" fill="rgb(99,99,99)"/><rect x="463.0" y="174.0" width="1.05" height="61.0" fill="rgb(105,105,105)"/><rect x="464.0" y="27.6" width="1.05" height="62.4" fill="rgb(114,114,114)"/><rect x="464.0" y="90.0" width="1.05" height="84.0" fill="rgb(107,107,107)"/><rect x="464.0" y="174.0" width="1.05" height="61.0" fill="rgb(113,113,113)"/><rect x="465.0" y="27.6" width="1.05" height="62.4" fill="rgb(125,125,125)"/><rect x="465.0" y="90.0" width="1.05" height="84.0" fill="rgb(117,117,117)"/><rect x="465.0" y="174.0" width="1.05" height="61.0" fill="rgb(124,124,124)"/><rect x="466.0" y="27.6" width="1.05" height="62.4" fill="rgb(127,127,127)"/><rect x="466.0" y="90.0" width="1.05" height="84.0" fill="rgb(120,120,120)"/><rect x="466.0" y="174.0" width="1.05" height="61.0" fill="rgb(126,126,126)"/><rect x="467.0" y="27.6" width="1.05" height="62.4" fill="rgb(137,137,137)"/><rect x="467.0" y="90.0" width="1.05" height="84.0" fill="rgb(129,129,129)"/><rect x="467.0" y="174.0" width="1.05" height="61.0" fill="rgb(136,136,136)"/><rect x="468.0" y="27.6" width="1.05" height="62.4" fill="rgb(113,113,113)"/><rect x="468.0" y="90.0" width="1.05" height="84.0" fill="rgb(106,106,106)"/><rect x="468.0" y="174.0" width="1.05" height="61.0" fill="rgb(112,112,112)"/><rect x="469.0" y="27.6" width="1.05" height="62.4" fill="rgb(122,122,122)"/><rect x="469.0" y="90.0" width="1.05" height="84.0" fill="rgb(115,115,115)"/><rect x="469.0" y="174.0" width="1.05" height="61.0" fill="rgb(121,121,121)"/><rect x="470.0" y="27.6" width="1.05" height="62.4" fill="rgb(113,113,113)"/><rect x="470.0" y="90.0" width="1.05" height="84.0" fill="rgb(113,113,113)"/><rect x="470.0" y="174.0" width="1.05" height="61.0" fill="rgb(146,146,146)"/><rect x="471.0" y="27.6" width="1.05" height="62.4" fill="rgb(106,106,106)"/><rect x="471.0" y="90.0" width="1.05" height="84.0" fill="rgb(106,106,106)"/><rect x="471.0" y="174.0" width="1.05" height="61.0" fill="rgb(138,138,138)"/><rect x="472.0" y="27.6" width="1.05" height="62.4" fill="rgb(85,85,85)"/><rect x="472.0" y="90.0" width="1.05" height="84.0" fill="rgb(85,85,85)"/><rect x="472.0" y="174.0" width="1.05" height="61.0" fill="rgb(118,118,118)"/><rect x="473.0" y="27.6" width="1.05" height="62.4" fill="rgb(115,115,115)"/><rect x="473.0" y="90.0" width="1.05" height="84.0" fill="rgb(115,115,115)"/><rect x="473.0" y="174.0" width="1.05" height="61.0" fill="rgb(147,147,147)"/><rect x="474.0" y="27.6" width="1.05" height="62.4" fill="rgb(128,128,128)"/><rect x="474.0" y="90.0" width="1.05" height="84.0" fill="rgb(128,128,128)"/><rect x="474.0" y="174.0" width="1.05" height="61.0" fill="rgb(161,161,161)"/><rect x="475.0" y="27.6" width="1.05" height="62.4" fill="rgb(116,116,116)"/><rect x="475.0" y="90.0" width="1.05" height="84.0" fill="rgb(116,116,116)"/><rect x="475.0" y="174.0" width="1.05" height="61.0" fill="rgb(149,149,149)"/><rect x="476.0" y="27.6" width="1.05" height="62.4" fill="rgb(99,99,99)"/><rect x="476.0" y="90.0" width="1.05" height="84.0" fill="rgb(99,99,99)"/><rect x="476.0" y="174.0" width="1.05" height="61.0" fill="rgb(131,131,131)"/><rect x="477.0" y="27.6" width="1.05" height="62.4" fill="rgb(103,103,103)"/><rect x="477.0" y="90.0" width="1.05" height="84.0" fill="rgb(103,103,103)"/><rect x="477.0" y="174.0" width="1.05" height="61.0" fill="rgb(136,136,136)"/><rect x="478.0" y="27.6" width="1.05" height="62.4" fill="rgb(121,121,121)"/><rect x="478.0" y="90.0" width="1.05" height="84.0" fill="rgb(130,130,130)"/><rect x="478.0" y="174.0" width="1.05" height="61.0" fill="rgb(152,152,152)"/><rect x="479.0" y="27.6" width="1.05" height="62.4" fill="rgb(142,142,142)"/><rect x="479.0" y="90.0" width="1.05" height="84.0" fill="rgb(150,150,150)"/><rect x="479.0" y="174.0" width="1.05" height="61.0" fill="rgb(173,173,173)"/><rect x="480.0" y="27.6" width="1.05" height="62.4" fill="rgb(125,125,125)"/><rect x="480.0" y="90.0" width="1.05" height="84.0" fill="rgb(133,133,133)"/><rect x="480.0" y="174.0" width="1.05" height="61.0" fill="rgb(156,156,156)"/><rect x="481.0" y="27.6" width="1.05" height="62.4" fill="rgb(120,120,120)"/><rect x="481.0" y="90.0" width="1.05" height="84.0" fill="rgb(129,129,129)"/><rect x="481.0" y="174.0" width="1.05" height="61.0" fill="rgb(151,151,151)"/><rect x="482.0" y="27.6" width="1.05" height="62.4" fill="rgb(134,134,134)"/><rect x="482.0" y="90.0" width="1.05" height="84.0" fill="rgb(142,142,142)"/><rect x="482.0" y="174.0" width="1.05" height="61.0" fill="rgb(164,164,164)"/><rect x="483.0" y="27.6" width="1.05" height="62.4" fill="rgb(119,119,119)"/><rect x="483.0" y="90.0" width="1.05" height="84.0" fill="rgb(127,127,127)"/><rect x="483.0" y="174.0" width="1.05" height="61.0" fill="rgb(149,149,149)"/><rect x="484.0" y="27.6" width="1.05" height="62.4" fill="rgb(136,136,136)"/><rect x="484.0" y="90.0" width="1.05" height="84.0" fill="rgb(145,145,145)"/><rect x="484.0" y="174.0" width="1.05" height="61.0" fill="rgb(167,167,167)"/><rect x="485.0" y="27.6" width="1.05" height="62.4" fill="rgb(105,105,105)"/><rect x="485.0" y="90.0" width="1.05" height="84.0" fill="rgb(101,101,101)"/><rect x="485.0" y="174.0" width="1.05" height="61.0" fill="rgb(135,135,135)"/><rect x="486.0" y="27.6" width="1.05" height="62.4" fill="rgb(107,107,107)"/><rect x="486.0" y="90.0" width="1.05" height="84.0" fill="rgb(103,103,103)"/><rect x="486.0" y="174.0" width="1.05" height="61.0" fill="rgb(137,137,137)"/><rect x="487.0" y="27.6" width="1.05" height="62.4" fill="rgb(118,118,118)"/><rect x="487.0" y="90.0" width="1.05" height="84.0" fill="rgb(114,114,114)"/><rect x="487.0" y="174.0" width="1.05" height="61.0" fill="rgb(148,148,148)"/><rect x="488.0" y="27.6" width="1.05" height="62.4" fill="rgb(124,124,124)"/><rect x="488.0" y="90.0" width="1.05" height="84.0" fill="rgb(120,120,120)"/><rect x="488.0" y="174.0" width="1.05" height="61.0" fill="rgb(155,155,155)"/><rect x="489.0" y="27.6" width="1.05" height="62.4" fill="rgb(117,117,117)"/><rect x="489.0" y="90.0" width="1.05" height="84.0" fill="rgb(113,113,113)"/><rect x="489.0" y="174.0" width="1.05" height="61.0" fill="rgb(148,148,148)"/><rect x="490.0" y="27.6" width="1.05" height="62.4" fill="rgb(136,136,136)"/><rect x="490.0" y="90.0" width="1.05" height="84.0" fill="rgb(130,130,130)"/><rect x="490.0" y="174.0" width="1.05" height="61.0" fill="rgb(104,104,104)"/><rect x="491.0" y="27.6" width="1.05" height="62.4" fill="rgb(117,117,117)"/><rect x="491.0" y="90.0" width="1.05" height="84.0" fill="rgb(111,111,111)"/><rect x="491.0" y="174.0" width="1.05" height="61.0" fill="rgb(84,84,84)"/><rect x="492.0" y="27.6" width="1.05" height="62.4" fill="rgb(127,127,127)"/><rect x="492.0" y="90.0" width="1.05" height="84.0" fill="rgb(121,121,121)"/><rect x="492.0" y="174.0" width="1.05" height="61.0" fill="rgb(94,94,94)"/><rect x="493.0" y="27.6" width="1.05" height="62.4" fill="rgb(128,128,128)"/><rect x="493.0" y="90.0" width="1.05" height="84.0" fill="rgb(122,122,122)"/><rect x="493.0" y="174.0" width="1.05" height="61.0" fill="rgb(95,95,95)"/><rect x="494.0" y="27.6" width="1.05" height="62.4" fill="rgb(129,129,129)"/><rect x="494.0" y="90.0" width="1.05" height="84.0" fill="rgb(123,123,123)"/><rect x="494.0" y="174.0" width="1.05" height="61.0" fill="rgb(96,96,96)"/><rect x="495.0" y="27.6" width="1.05" height="62.4" fill="rgb(139,139,139)"/><rect x="495.0" y="90.0" width="1.05" height="84.0" fill="rgb(133,133,133)"/><rect x="495.0" y="174.0" width="1.05" height="61.0" fill="rgb(106,106,106)"/><rect x="496.0" y="27.6" width="1.05" height="62.4" fill="rgb(131,131,131)"/><rect x="496.0" y="90.0" width="1.05" height="84.0" fill="rgb(124,124,124)"/><rect x="496.0" y="174.0" width="1.05" height="61.0" fill="rgb(98,98,98)"/><rect x="497.0" y="27.6" width="1.05" height="62.4" fill="rgb(139,139,139)"/><rect x="497.0" y="90.0" width="1.05" height="84.0" fill="rgb(139,139,139)"/><rect x="497.0" y="174.0" width="1.05" height="61.0" fill="rgb(129,129,129)"/><rect x="498.0" y="27.6" width="1.05" height="62.4" fill="rgb(132,132,132)"/><rect x="498.0" y="90.0" width="1.05" height="84.0" fill="rgb(132,132,132)"/><rect x="498.0" y="174.0" width="1.05" height="61.0" fill="rgb(122,122,122)"/><rect x="499.0" y="27.6" width="1.05" height="62.4" fill="rgb(129,129,129)"/><rect x="499.0" y="90.0" width="1.05" height="84.0" fill="rgb(129,129,129)"/><rect x="499.0" y="174.0" width="1.05" height="61.0" fill="rgb(118,118,118)"/><rect x="500.0" y="27.6" width="1.05" height="62.4" fill="rgb(129,129,129)"/><rect x="500.0" y="90.0" width="1.05" height="84.0" fill="rgb(131,131,131)"/><rect x="500.0" y="174.0" width="1.05" height="61.0" fill="rgb(125,125,125)"/><rect x="501.0" y="27.6" width="1.05" height="62.4" fill="rgb(131,131,131)"/><rect x="501.0" y="90.0" width="1.05" height="84.0" fill="rgb(133,133,133)"/><rect x="501.0" y="174.0" width="1.05" height="61.0" fill="rgb(127,127,127)"/><rect x="502.0" y="27.6" width="1.05" height="62.4" fill="rgb(135,135,135)"/><rect x="502.0" y="90.0" width="1.05" height="84.0" fill="rgb(137,137,137)"/><rect x="502.0" y="174.0" width="1.05" height="61.0" fill="rgb(131,131,131)"/><rect x="503.0" y="27.6" width="1.05" height="62.4" fill="rgb(123,123,123)"/><rect x="503.0" y="90.0" width="1.05" height="84.0" fill="rgb(125,125,125)"/><rect x="503.0" y="174.0" width="1.05" height="61.0" fill="rgb(119,119,119)"/><rect x="504.0" y="27.6" width="1.05" height="62.4" fill="rgb(125,125,125)"/><rect x="504.0" y="90.0" width="1.05" height="84.0" fill="rgb(127,127,127)"/><rect x="504.0" y="174.0" width="1.05" height="61.0" fill="rgb(121,121,121)"/><rect x="505.0" y="27.6" width="1.05" height="62.4" fill="rgb(115,115,115)"/><rect x="505.0" y="90.0" width="1.05" height="84.0" fill="rgb(117,117,117)"/><rect x="505.0" y="174.0" width="1.05" height="61.0" fill="rgb(111,111,111)"/><rect x="506.0" y="27.6" width="1.05" height="62.4" fill="rgb(142,142,142)"/><rect x="506.0" y="90.0" width="1.05" height="84.0" fill="rgb(144,144,144)"/><rect x="506.0" y="174.0" width="1.05" height="61.0" fill="rgb(138,138,138)"/><rect x="507.0" y="27.6" width="0.55" height="62.4" fill="rgb(141,141,141)"/><rect x="507.0" y="90.0" width="0.55" height="84.0" fill="rgb(143,143,143)"/><rect x="507.0" y="174.0" width="0.55" height="61.0" fill="rgb(137,137,137)"/><rect x="360.0" y="27.6" width="45.30000000000001" height="20" fill="url(#hmfade)"/><rect x="406.9" y="27.6" width="100.60000000000002" height="16" fill="url(#hmfade2)"/><rect x="443.3" y="224" width="10" height="11" fill="#000" fill-opacity="0.22"/><rect x="407.3" y="174.5" width="100" height="6" fill="#fff" fill-opacity="0.08"/><rect x="360.0" y="30.6" width="147.5" height="1" fill="#000" fill-opacity="0.05"/><rect x="360.0" y="31.6" width="147.5" height="1.5" fill="#fff" fill-opacity="0.03"/><rect x="360.0" y="33.1" width="147.5" height="1" fill="#000" fill-opacity="0.04"/><rect x="360.0" y="44.1" width="147.5" height="1.5" fill="#000" fill-opacity="0.01"/><rect x="360.0" y="49.6" width="147.5" height="2" fill="#000" fill-opacity="0.04"/><rect x="360.0" y="52.6" width="147.5" height="1" fill="#000" fill-opacity="0.01"/><rect x="360.0" y="55.6" width="147.5" height="2" fill="#000" fill-opacity="0.04"/><rect x="360.0" y="57.6" width="147.5" height="2" fill="#fff" fill-opacity="0.02"/><rect x="360.0" y="59.6" width="147.5" height="1" fill="#000" fill-opacity="0.03"/><rect x="360.0" y="61.6" width="147.5" height="1" fill="#fff" fill-opacity="0.01"/><rect x="360.0" y="65.6" width="147.5" height="1.5" fill="#000" fill-opacity="0.02"/><rect x="360.0" y="67.1" width="147.5" height="2" fill="#000" fill-opacity="0.01"/><rect x="360.0" y="70.1" width="147.5" height="2" fill="#fff" fill-opacity="0.02"/><rect x="360.0" y="72.1" width="147.5" height="1.5" fill="#fff" fill-opacity="0.02"/><rect x="360.0" y="73.6" width="147.5" height="1" fill="#fff" fill-opacity="0.01"/><rect x="360.0" y="74.6" width="147.5" height="2" fill="#000" fill-opacity="0.01"/><rect x="360.0" y="76.6" width="147.5" height="1" fill="#000" fill-opacity="0.06"/><rect x="360.0" y="77.6" width="147.5" height="1" fill="#000" fill-opacity="0.01"/><rect x="360.0" y="78.6" width="147.5" height="1" fill="#000" fill-opacity="0.06"/><rect x="360.0" y="81.6" width="147.5" height="3" fill="#fff" fill-opacity="0.02"/><rect x="360.0" y="84.6" width="147.5" height="3" fill="#fff" fill-opacity="0.02"/><rect x="360.0" y="87.6" width="147.5" height="2" fill="#000" fill-opacity="0.04"/><rect x="360.0" y="90.6" width="147.5" height="1.5" fill="#fff" fill-opacity="0.03"/><rect x="360.0" y="92.1" width="147.5" height="1.5" fill="#fff" fill-opacity="0.02"/><rect x="360.0" y="93.6" width="147.5" height="2" fill="#000" fill-opacity="0.03"/><rect x="360.0" y="96.6" width="147.5" height="1" fill="#fff" fill-opacity="0.02"/><rect x="360.0" y="97.6" width="147.5" height="1" fill="#fff" fill-opacity="0.03"/><rect x="360.0" y="98.6" width="147.5" height="1.5" fill="#fff" fill-opacity="0.01"/><rect x="360.0" y="100.1" width="147.5" height="3" fill="#000" fill-opacity="0.01"/><rect x="360.0" y="103.1" width="147.5" height="3" fill="#000" fill-opacity="0.04"/><rect x="360.0" y="109.6" width="147.5" height="2" fill="#000" fill-opacity="0.08"/><rect x="360.0" y="114.6" width="147.5" height="1" fill="#000" fill-opacity="0.04"/><rect x="360.0" y="115.6" width="147.5" height="2" fill="#000" fill-opacity="0.03"/><rect x="360.0" y="123.6" width="147.5" height="1.5" fill="#000" fill-opacity="0.04"/><rect x="360.0" y="128.1" width="147.5" height="3" fill="#000" fill-opacity="0.01"/><rect x="360.0" y="133.1" width="147.5" height="1.5" fill="#000" fill-opacity="0.04"/><rect x="360.0" y="134.6" width="147.5" height="3" fill="#fff" fill-opacity="0.01"/><rect x="360.0" y="141.1" width="147.5" height="2" fill="#fff" fill-opacity="0.02"/><rect x="360.0" y="145.1" width="147.5" height="1" fill="#fff" fill-opacity="0.04"/><rect x="360.0" y="148.1" width="147.5" height="2" fill="#fff" fill-opacity="0.02"/><rect x="360.0" y="150.1" width="147.5" height="2" fill="#fff" fill-opacity="0.02"/><rect x="360.0" y="152.1" width="147.5" height="2" fill="#fff" fill-opacity="0.03"/><rect x="360.0" y="154.1" width="147.5" height="2" fill="#fff" fill-opacity="0.02"/><rect x="360.0" y="156.1" width="147.5" height="1.5" fill="#000" fill-opacity="0.02"/><rect x="360.0" y="157.6" width="147.5" height="2" fill="#fff" fill-opacity="0.03"/><rect x="360.0" y="161.6" width="147.5" height="2" fill="#000" fill-opacity="0.04"/><rect x="360.0" y="163.6" width="147.5" height="1" fill="#fff" fill-opacity="0.03"/><rect x="360.0" y="165.6" width="147.5" height="1" fill="#000" fill-opacity="0.03"/><rect x="360.0" y="167.6" width="147.5" height="2" fill="#000" fill-opacity="0.07"/><rect x="360.0" y="169.6" width="147.5" height="1" fill="#fff" fill-opacity="0.02"/><rect x="360.0" y="170.6" width="147.5" height="1" fill="#fff" fill-opacity="0.03"/><rect x="360.0" y="171.6" width="147.5" height="2" fill="#000" fill-opacity="0.01"/><rect x="360.0" y="173.6" width="147.5" height="2" fill="#fff" fill-opacity="0.02"/><rect x="360.0" y="177.6" width="147.5" height="1" fill="#fff" fill-opacity="0.01"/><rect x="360.0" y="178.6" width="147.5" height="1" fill="#fff" fill-opacity="0.03"/><rect x="360.0" y="179.6" width="147.5" height="1" fill="#000" fill-opacity="0.01"/><rect x="360.0" y="183.6" width="147.5" height="2" fill="#000" fill-opacity="0.03"/><rect x="360.0" y="185.6" width="147.5" height="2" fill="#fff" fill-opacity="0.03"/><rect x="360.0" y="187.6" width="147.5" height="2" fill="#000" fill-opacity="0.03"/><rect x="360.0" y="189.6" width="147.5" height="3" fill="#000" fill-opacity="0.03"/><rect x="360.0" y="192.6" width="147.5" height="1" fill="#fff" fill-opacity="0.02"/><rect x="360.0" y="193.6" width="147.5" height="2" fill="#fff" fill-opacity="0.02"/><rect x="360.0" y="195.6" width="147.5" height="2" fill="#fff" fill-opacity="0.02"/><rect x="360.0" y="198.6" width="147.5" height="1" fill="#000" fill-opacity="0.04"/><rect x="360.0" y="199.6" width="147.5" height="1.5" fill="#fff" fill-opacity="0.01"/><rect x="360.0" y="201.1" width="147.5" height="1" fill="#fff" fill-opacity="0.01"/><rect x="360.0" y="202.1" width="147.5" height="1" fill="#000" fill-opacity="0.01"/><rect x="360.0" y="205.1" width="147.5" height="2" fill="#000" fill-opacity="0.04"/><rect x="360.0" y="207.1" width="147.5" height="3" fill="#fff" fill-opacity="0.01"/><rect x="360.0" y="210.1" width="147.5" height="1" fill="#000" fill-opacity="0.03"/><rect x="360.0" y="211.1" width="147.5" height="1.5" fill="#000" fill-opacity="0.02"/><rect x="360.0" y="212.6" width="147.5" height="2" fill="#fff" fill-opacity="0.02"/><rect x="360.0" y="214.6" width="147.5" height="1" fill="#fff" fill-opacity="0.02"/><rect x="360.0" y="221.6" width="147.5" height="1" fill="#fff" fill-opacity="0.01"/><rect x="360.0" y="227.6" width="147.5" height="1" fill="#fff" fill-opacity="0.01"/><rect x="360.0" y="228.6" width="147.5" height="2" fill="#000" fill-opacity="0.02"/><rect x="360.0" y="230.6" width="147.5" height="1.5" fill="#fff" fill-opacity="0.04"/><rect x="360.0" y="234.6" width="147.5" height="1" fill="#000" fill-opacity="0.03"/></g><rect x="405.3" y="27.1" width="1.6" height="208.4" fill="#fff"/>
<rect x="360.0" y="17.2" width="45.6" height="4.7" fill="#cd4ee6" stroke="#9a9a9a" stroke-width="0.3"/>
<rect x="407.3" y="17.2" width="100.19999999999999" height="4.7" fill="#4a8ff0" stroke="#9a9a9a" stroke-width="0.3"/>
<rect x="360.0" y="22.4" width="36.69999999999999" height="4.4" fill="#f23c3c" stroke="#9a9a9a" stroke-width="0.3"/>
<rect x="396.7" y="22.4" width="8.900000000000011" height="4.4" fill="#4040f0" stroke="#9a9a9a" stroke-width="0.3"/>
<rect x="407.3" y="22.4" width="35.89999999999998" height="4.4" fill="#f23c3c" stroke="#9a9a9a" stroke-width="0.3"/>
<rect x="443.2" y="22.4" width="64.30000000000001" height="4.4" fill="#4040f0" stroke="#9a9a9a" stroke-width="0.3"/>
<rect x="360.0" y="27.6" width="45.0" height="207.6" fill="none" stroke="#a8a8a8" stroke-width="0.5"/>
<rect x="407.2" y="27.6" width="100.30000000000001" height="207.6" fill="none" stroke="#a8a8a8" stroke-width="0.5"/>
<rect x="351.8" y="28.0" width="8.0" height="207" fill="#d8d8d8"/>
<path d="M357.3,28.3H359.6M357.3,28.3V29.5H359.6M356.3,29.5H359.6M356.3,29.5V31.5H359.6M357.8,31.5H359.6M357.8,31.5V32.7H359.6M356.5,32.7H359.6M356.5,32.7V35.0H359.6M355.1,35.0H359.6M355.1,35.0V36.8H359.6M355.8,36.8H359.6M355.8,36.8V37.7H359.6M354.3,37.7H359.6M354.3,37.7V39.6H359.6M355.1,39.6H359.6M355.1,39.6V41.8H359.6M354.2,41.8H359.6M354.2,41.8V43.1H359.6M357.5,43.1H359.6M357.5,43.1V45.7H359.6M357.0,45.7H359.6M357.0,45.7V48.1H359.6M355.6,48.1H359.6M355.6,48.1V49.0H359.6M354.6,49.0H359.6M354.6,49.0V50.8H359.6M355.8,50.8H359.6M355.8,50.8V53.3H359.6M357.9,53.3H359.6M357.9,53.3V54.5H359.6M358.5,54.5H359.6M358.5,54.5V55.6H359.6M356.6,55.6H359.6M356.6,55.6V57.3H359.6M356.3,57.3H359.6M356.3,57.3V58.7H359.6M354.2,58.7H359.6M354.2,58.7V60.0H359.6M355.1,60.0H359.6M355.1,60.0V62.3H359.6M355.0,62.3H359.6M355.0,62.3V64.6H359.6M358.3,64.6H359.6M358.3,64.6V67.1H359.6M357.7,67.1H359.6M357.7,67.1V69.3H359.6M357.5,69.3H359.6M357.5,69.3V71.2H359.6M356.3,71.2H359.6M356.3,71.2V72.3H359.6M355.0,72.3H359.6M355.0,72.3V74.6H359.6M358.3,74.6H359.6M358.3,74.6V77.1H359.6M355.8,77.1H359.6M355.8,77.1V78.7H359.6M355.9,78.7H359.6M355.9,78.7V80.3H359.6M355.9,80.3H359.6M355.9,80.3V82.9H359.6M354.4,82.9H359.6M354.4,82.9V83.9H359.6M358.8,83.9H359.6M358.8,83.9V86.0H359.6M356.4,86.0H359.6M356.4,86.0V87.7H359.6M357.6,87.7H359.6M357.6,87.7V89.6H359.6M356.9,89.6H359.6M356.9,89.6V90.8H359.6M357.0,90.8H359.6M357.0,90.8V92.7H359.6M354.8,92.7H359.6M354.8,92.7V93.9H359.6M358.4,93.9H359.6M358.4,93.9V95.4H359.6M356.9,95.4H359.6M356.9,95.4V96.9H359.6M354.5,96.9H359.6M354.5,96.9V98.3H359.6M357.9,98.3H359.6M357.9,98.3V99.3H359.6M355.8,99.3H359.6M355.8,99.3V101.5H359.6M357.2,101.5H359.6M357.2,101.5V103.6H359.6M358.6,103.6H359.6M358.6,103.6V106.0H359.6M358.7,106.0H359.6M358.7,106.0V107.6H359.6M356.8,107.6H359.6M356.8,107.6V110.1H359.6M356.4,110.1H359.6M356.4,110.1V112.5H359.6M355.2,112.5H359.6M355.2,112.5V114.1H359.6M354.8,114.1H359.6M354.8,114.1V116.5H359.6M357.9,116.5H359.6M357.9,116.5V117.5H359.6M356.3,117.5H359.6M356.3,117.5V119.7H359.6M354.3,119.7H359.6M354.3,119.7V122.0H359.6M355.4,122.0H359.6M355.4,122.0V123.4H359.6M354.8,123.4H359.6M354.8,123.4V125.0H359.6M355.6,125.0H359.6M355.6,125.0V126.0H359.6M358.7,126.0H359.6M358.7,126.0V128.4H359.6M356.3,128.4H359.6M356.3,128.4V130.6H359.6M358.6,130.6H359.6M358.6,130.6V131.9H359.6M357.5,131.9H359.6M357.5,131.9V133.7H359.6M355.0,133.7H359.6M355.0,133.7V134.7H359.6M357.8,134.7H359.6M357.8,134.7V137.0H359.6M356.9,137.0H359.6M356.9,137.0V139.4H359.6M356.8,139.4H359.6M356.8,139.4V141.0H359.6M355.5,141.0H359.6M355.5,141.0V143.4H359.6M355.3,143.4H359.6M355.3,143.4V145.2H359.6M354.0,145.2H359.6M354.0,145.2V147.4H359.6M358.6,147.4H359.6M358.6,147.4V149.4H359.6M356.8,149.4H359.6M356.8,149.4V150.4H359.6M358.1,150.4H359.6M358.1,150.4V152.4H359.6M355.2,152.4H359.6M355.2,152.4V154.3H359.6M358.6,154.3H359.6M358.6,154.3V155.8H359.6M354.6,155.8H359.6M354.6,155.8V158.3H359.6M354.5,158.3H359.6M354.5,158.3V159.3H359.6M356.1,159.3H359.6M356.1,159.3V160.3H359.6M358.2,160.3H359.6M358.2,160.3V161.4H359.6M354.6,161.4H359.6M354.6,161.4V163.4H359.6M355.6,163.4H359.6M355.6,163.4V165.3H359.6M355.1,165.3H359.6M355.1,165.3V167.0H359.6M354.9,167.0H359.6M354.9,167.0V168.2H359.6M357.4,168.2H359.6M357.4,168.2V169.7H359.6M354.2,169.7H359.6M354.2,169.7V171.6H359.6M358.2,171.6H359.6M358.2,171.6V173.7H359.6M357.8,173.7H359.6M357.8,173.7V175.9H359.6M356.2,175.9H359.6M356.2,175.9V176.8H359.6M357.7,176.8H359.6M357.7,176.8V177.8H359.6M357.4,177.8H359.6M357.4,177.8V179.0H359.6M357.3,179.0H359.6M357.3,179.0V180.3H359.6M354.2,180.3H359.6M354.2,180.3V181.8H359.6M355.5,181.8H359.6M355.5,181.8V183.3H359.6M355.4,183.3H359.6M355.4,183.3V185.8H359.6M356.6,185.8H359.6M356.6,185.8V187.5H359.6M354.5,187.5H359.6M354.5,187.5V190.0H359.6M356.4,190.0H359.6M356.4,190.0V191.9H359.6M358.6,191.9H359.6M358.6,191.9V194.1H359.6M357.4,194.1H359.6M357.4,194.1V195.5H359.6M356.7,195.5H359.6M356.7,195.5V197.3H359.6M357.9,197.3H359.6M357.9,197.3V198.3H359.6M355.7,198.3H359.6M355.7,198.3V200.9H359.6M358.8,200.9H359.6M358.8,200.9V202.3H359.6M354.4,202.3H359.6M354.4,202.3V203.4H359.6M357.9,203.4H359.6M357.9,203.4V204.4H359.6M356.2,204.4H359.6M356.2,204.4V206.6H359.6M354.1,206.6H359.6M354.1,206.6V208.6H359.6M356.1,208.6H359.6M356.1,208.6V210.6H359.6M355.9,210.6H359.6M355.9,210.6V212.4H359.6M355.1,212.4H359.6M355.1,212.4V213.9H359.6M356.1,213.9H359.6M356.1,213.9V214.9H359.6M357.4,214.9H359.6M357.4,214.9V216.2H359.6M357.5,216.2H359.6M357.5,216.2V218.5H359.6M355.1,218.5H359.6M355.1,218.5V220.2H359.6M356.3,220.2H359.6M356.3,220.2V221.8H359.6M358.6,221.8H359.6M358.6,221.8V223.7H359.6M356.3,223.7H359.6M356.3,223.7V224.8H359.6M357.4,224.8H359.6M357.4,224.8V226.5H359.6M357.7,226.5H359.6M357.7,226.5V228.9H359.6M357.6,228.9H359.6M357.6,228.9V230.9H359.6M358.1,230.9H359.6M358.1,230.9V232.9H359.6M357.3,232.9H359.6M357.3,232.9V234.6H359.6" fill="none" stroke="#a0a0a0" stroke-width="0.35"/>
<path d="M355.3,30.0V36.5M355.3,30.0H357.5M355.3,36.5H358.0M355.4,35.2V47.4M355.4,35.2H358.9M355.4,47.4H356.9M353.5,45.0V52.1M353.5,45.0H355.8M353.5,52.1H355.3M352.8,50.7V60.2M352.8,50.7H354.9M352.8,60.2H356.2M353.9,58.3V69.7M353.9,58.3H355.7M353.9,69.7H357.4M353.2,67.4V78.5M353.2,67.4H355.4M353.2,78.5H356.0M353.4,76.3V87.1M353.4,76.3H356.8M353.4,87.1H355.5M355.1,84.9V91.5M355.1,84.9H356.9M355.1,91.5H357.9M354.3,90.1V96.1M354.3,90.1H356.4M354.3,96.1H356.6M354.0,94.9V108.4M354.0,94.9H356.3M354.0,108.4H356.7M353.1,105.7V112.5M353.1,105.7H355.4M353.1,112.5H355.2M355.4,111.1V117.0M355.4,111.1H357.0M355.4,117.0H358.5M354.6,115.8V129.2M354.6,115.8H356.2M354.6,129.2H357.1M354.4,126.5V130.9M354.4,126.5H357.3M354.4,130.9H356.3M354.2,130.0V134.1M354.2,130.0H355.9M354.2,134.1H356.3M355.2,133.3V141.8M355.2,133.3H357.4M355.2,141.8H357.0M355.0,140.1V152.0M355.0,140.1H357.5M355.0,152.0H356.6M353.8,149.6V155.5M353.8,149.6H356.4M353.8,155.5H355.7M355.0,154.3V166.4M355.0,154.3H358.4M355.0,166.4H358.3M354.3,164.0V168.1M354.3,164.0H355.9M354.3,168.1H357.6M354.8,167.3V178.8M354.8,167.3H356.7M354.8,178.8H356.4M354.4,176.5V188.6M354.4,176.5H357.1M354.4,188.6H356.8M353.6,186.2V198.2M353.6,186.2H355.6M353.6,198.2H355.8M354.4,195.8V202.8M354.4,195.8H357.7M354.4,202.8H356.1M354.1,201.4V206.1M354.1,201.4H356.9M354.1,206.1H356.0M352.8,205.1V211.8M352.8,205.1H354.3M352.8,211.8H355.3M354.5,210.5V221.3M354.5,210.5H356.3M354.5,221.3H356.2M354.2,219.1V232.4M354.2,219.1H356.5M354.2,232.4H357.0M354.1,229.8V234.0M354.1,229.8H355.8M354.1,234.0H357.3" fill="none" stroke="#8a8a8a" stroke-width="0.4"/>
<line x1="352.1" y1="28" x2="352.1" y2="234" stroke="#8c8c8c" stroke-width="0.6"/>
<text x="384.80" y="15.40" font-size="4.3" fill="#222" text-anchor="middle" font-weight="normal" >High Activate</text>
<text x="459.50" y="15.20" font-size="4.3" fill="#222" text-anchor="middle" font-weight="normal" >Low Activate</text>
<text x="508.50" y="21.40" font-size="3.85" fill="#222" text-anchor="start" font-weight="normal" textLength="32.5" lengthAdjust="spacingAndGlyphs" >EMT Activate Level</text>
<text x="508.50" y="26.20" font-size="3.85" fill="#222" text-anchor="start" font-weight="normal" textLength="30.5" lengthAdjust="spacingAndGlyphs" >NNMT expression</text>
<text x="512.40" y="46.30" font-size="3.3" fill="#111" text-anchor="start" font-weight="bold" textLength="26.6" lengthAdjust="spacingAndGlyphs" >NNMT expression</text>
<rect x="512.4" y="47.8" width="3.5" height="3.4" fill="#f23c3c"/>
<rect x="512.4" y="51.2" width="3.5" height="3.6" fill="#4848f0"/>
<text x="516.60" y="50.60" font-size="3.2" fill="#333" text-anchor="start" font-weight="normal" >NNMT-high</text>
<text x="516.60" y="54.10" font-size="3.2" fill="#333" text-anchor="start" font-weight="normal" >NNMT-low</text>
<text x="512.40" y="68.10" font-size="3.3" fill="#111" text-anchor="start" font-weight="bold" textLength="20.6" lengthAdjust="spacingAndGlyphs" >Activate Level</text>
<rect x="512.4" y="69.7" width="3.5" height="3.2" fill="#c34fe0"/>
<rect x="512.4" y="72.9" width="3.5" height="3.2" fill="#4a8fe8"/>
<text x="516.60" y="72.40" font-size="3.2" fill="#333" text-anchor="start" font-weight="normal" >High Activate</text>
<text x="516.60" y="75.60" font-size="3.2" fill="#333" text-anchor="start" font-weight="normal" >Low Activate</text>
<defs><linearGradient id="cb" x1="0" y1="0" x2="0" y2="1"><stop offset="0" stop-color="#ff3030"/><stop offset="0.5" stop-color="#ffffff"/><stop offset="1" stop-color="#3030ff"/></linearGradient></defs>
<rect x="514.5" y="154.5" width="3.5" height="19.4" fill="url(#cb)"/>
<text x="519.30" y="156.60" font-size="3.6" fill="#444" text-anchor="start" font-weight="normal" >2</text>
<text x="519.30" y="161.20" font-size="3.6" fill="#444" text-anchor="start" font-weight="normal" >1</text>
<text x="519.30" y="165.80" font-size="3.6" fill="#444" text-anchor="start" font-weight="normal" >0</text>
<text x="519.30" y="170.40" font-size="3.6" fill="#444" text-anchor="start" font-weight="normal" >-1</text>
<text x="519.30" y="175.00" font-size="3.6" fill="#444" text-anchor="start" font-weight="normal" >-2</text>
<text x="344.00" y="254.80" font-size="12" fill="#111" text-anchor="start" font-weight="normal" >e.</text>
<path d="M437.64,302.00 L436.83,306.08 L434.34,309.72 L433.47,313.52 L431.91,317.10 L430.19,320.58 L429.92,325.19 L426.88,328.00 L423.41,330.22 L420.42,332.85 L416.74,334.45 L413.20,336.13 L409.31,336.79 L405.50,337.28 L401.64,336.62 L398.00,339.43 L394.14,338.73 L390.19,338.73 L385.31,341.05 L381.18,339.77 L376.88,338.57 L373.02,336.38 L370.94,332.05 L368.06,328.96 L366.53,324.86 L365.16,320.96 L365.88,316.30 L364.83,312.78 L362.24,309.60 L362.47,305.73 L360.96,302.00 L360.94,298.11 L361.23,294.18 L361.54,290.15 L362.80,286.33 L364.10,282.43 L366.32,278.99 L369.23,276.09 L371.84,272.95 L375.19,270.60 L378.17,267.66 L381.51,264.97 L385.21,262.64 L389.52,262.08 L393.87,262.68 L398.00,261.20 L401.98,264.09 L405.56,266.41 L409.65,266.15 L411.92,270.74 L415.66,271.41 L418.34,274.01 L421.32,276.10 L425.50,277.24 L429.21,279.33 L431.95,282.40 L433.52,286.18 L437.19,289.27 L438.47,293.40 L439.00,297.69Z" fill="#f5ccb7"/>
<path d="M378.74,270.80 L378.93,272.17 L378.09,273.35 L377.87,274.67 L377.18,275.80 L375.92,276.45 L375.28,277.58 L374.21,278.29 L373.50,279.78 L372.35,280.84 L370.85,280.88 L369.40,281.17 L367.88,281.38 L366.61,280.31 L365.44,279.47 L364.12,279.01 L363.63,277.46 L362.49,276.79 L361.78,275.69 L360.47,274.88 L360.24,273.49 L359.88,272.17 L359.96,270.80 L359.96,269.44 L360.39,268.15 L360.52,266.74 L361.46,265.70 L361.52,263.97 L362.68,263.05 L364.11,262.57 L365.17,261.54 L366.96,262.48 L368.21,262.52 L369.40,261.44 L370.62,262.34 L371.96,262.07 L373.49,261.84 L374.71,262.54 L375.91,263.29 L377.17,264.06 L377.54,265.57 L378.06,266.85 L378.75,268.05 L378.80,269.45Z" fill="#f5ccb7" stroke="#e2b19a" stroke-width="0.6"/>
<path d="M401.01,275.00 L400.03,276.82 L399.36,278.51 L399.49,280.52 L397.88,281.73 L397.37,283.64 L396.86,285.92 L395.19,287.12 L393.70,288.80 L391.44,288.76 L389.42,289.07 L387.40,288.89 L385.56,287.79 L384.02,286.51 L382.17,286.46 L380.31,286.03 L378.40,285.39 L377.43,283.64 L375.52,282.63 L374.73,280.78 L373.93,278.95 L374.07,276.92 L374.01,275.00 L373.26,272.97 L373.89,271.03 L374.59,269.15 L375.71,267.49 L376.68,265.71 L379.19,265.53 L381.00,265.04 L381.74,262.61 L383.70,262.39 L385.56,262.24 L387.40,260.01 L389.37,261.32 L391.58,260.78 L393.81,260.96 L395.05,263.10 L396.19,264.85 L397.49,266.26 L398.04,268.16 L399.58,269.44 L400.59,271.13 L400.08,273.18Z" fill="#f5ccb7" stroke="#e2b19a" stroke-width="0.6"/>
<path d="M395.75,274.60 L395.82,275.81 L395.57,277.07 L394.70,278.00 L393.59,278.57 L392.41,278.76 L391.30,279.01 L390.14,278.94 L388.91,278.73 L388.04,277.86 L387.39,276.86 L386.53,275.88 L386.40,274.60 L386.85,273.41 L387.68,272.51 L388.32,271.62 L389.11,270.81 L390.02,269.84 L391.30,269.59 L392.54,269.97 L393.50,270.78 L394.61,271.29 L395.13,272.39 L395.46,273.49Z" fill="#e7b19b"/>
<path d="M428.62,270.80 L428.12,272.95 L426.25,274.63 L425.62,276.47 L424.73,278.21 L423.58,279.80 L423.57,282.77 L420.60,282.32 L419.04,283.59 L417.10,284.08 L415.13,284.23 L413.20,285.03 L411.07,285.59 L409.07,284.87 L406.82,284.77 L404.70,284.02 L402.82,282.78 L402.02,280.49 L401.58,278.27 L400.92,276.41 L400.18,274.62 L399.09,272.83 L398.89,270.80 L398.84,268.74 L398.91,266.60 L399.74,264.65 L400.54,262.67 L401.77,260.90 L403.68,259.82 L405.45,258.74 L406.72,256.61 L409.10,256.84 L411.05,255.84 L413.20,255.15 L415.35,255.83 L417.06,257.65 L419.29,257.47 L420.16,259.97 L421.98,260.67 L423.93,261.50 L425.79,262.71 L427.64,264.20 L429.12,266.13 L428.87,268.55Z" fill="#f5ccb7" stroke="#e2b19a" stroke-width="0.6"/>
<path d="M423.97,270.80 L423.46,272.37 L422.90,273.86 L421.63,274.83 L420.66,276.10 L419.41,277.54 L417.60,277.43 L415.92,277.07 L414.73,275.77 L413.25,275.15 L412.05,274.01 L411.26,272.50 L411.29,270.80 L411.68,269.21 L411.75,267.42 L412.88,266.08 L414.56,265.54 L416.06,265.07 L417.60,264.77 L419.20,264.82 L420.95,264.99 L422.40,266.00 L422.97,267.70 L423.53,269.21Z" fill="#e7b19b"/>
<path d="M382.82,297.90 L382.30,299.96 L382.10,302.04 L382.00,304.29 L381.38,306.50 L380.78,308.97 L378.97,310.55 L376.38,310.95 L374.74,312.67 L372.79,314.21 L370.30,313.91 L368.00,314.28 L365.49,315.34 L363.53,313.12 L361.62,311.86 L359.01,311.88 L358.31,309.08 L357.16,307.30 L355.33,306.04 L354.64,304.00 L353.30,302.22 L351.22,300.31 L351.47,297.90 L350.88,295.44 L351.05,292.92 L353.00,291.05 L354.91,289.49 L355.49,287.06 L358.14,286.52 L359.83,285.19 L361.62,283.92 L363.65,283.07 L365.88,283.12 L368.00,282.62 L370.20,282.57 L372.12,283.87 L375.00,282.58 L376.86,284.11 L378.99,285.22 L381.96,285.81 L382.43,288.63 L383.03,291.04 L384.27,293.12 L382.77,295.78Z" fill="#f5ccb7" stroke="#e2b19a" stroke-width="0.6"/>
<path d="M376.98,299.20 L377.00,300.92 L376.73,302.74 L375.53,304.13 L374.13,305.32 L372.39,305.89 L370.60,306.13 L368.90,305.53 L367.41,304.72 L366.01,303.79 L364.79,302.55 L363.37,301.14 L363.50,299.20 L363.88,297.40 L365.04,295.99 L366.00,294.60 L367.29,293.47 L368.93,292.96 L370.60,292.66 L372.31,292.81 L374.22,292.93 L375.74,294.06 L376.32,295.90 L376.74,297.55Z" fill="#e7b19b"/>
<path d="M440.90,292.70 L440.25,294.55 L440.28,296.48 L439.61,298.28 L439.14,300.25 L437.35,301.32 L437.10,303.89 L435.14,304.75 L433.23,305.47 L431.19,305.62 L429.22,305.38 L427.40,305.26 L425.65,304.88 L423.78,305.04 L421.99,304.54 L420.08,304.09 L418.30,303.20 L416.89,301.81 L414.92,300.72 L414.86,298.43 L415.00,296.34 L413.74,294.66 L414.77,292.70 L413.90,290.76 L414.45,288.90 L414.90,286.99 L416.88,285.94 L417.54,284.15 L419.15,283.18 L420.63,282.17 L421.89,280.64 L423.75,280.27 L425.50,279.47 L427.40,278.46 L429.49,278.13 L431.40,279.07 L433.31,279.77 L434.26,282.03 L435.49,283.37 L437.09,284.31 L437.83,286.00 L438.65,287.56 L440.53,288.84 L440.34,290.84Z" fill="#f5ccb7" stroke="#e2b19a" stroke-width="0.6"/>
<path d="M430.62,294.00 L430.10,295.42 L429.25,296.57 L428.63,297.83 L427.51,298.70 L426.27,299.47 L424.80,299.72 L423.32,299.54 L421.83,299.14 L420.72,298.08 L420.19,296.66 L419.80,295.34 L419.46,294.00 L419.26,292.52 L419.69,291.05 L420.76,289.96 L422.06,289.25 L423.30,288.41 L424.80,288.62 L426.22,288.69 L427.51,289.30 L428.68,290.12 L430.02,290.99 L430.72,292.41Z" fill="#e7b19b"/>
<path d="M381.25,320.00 L380.97,321.66 L381.17,323.46 L381.13,325.36 L380.59,327.19 L379.39,328.66 L377.99,329.91 L375.98,330.25 L374.09,330.26 L372.58,330.82 L370.97,330.95 L369.40,331.39 L367.70,331.79 L365.88,332.00 L364.13,331.54 L362.68,330.46 L361.29,329.36 L360.64,327.59 L359.22,326.54 L358.77,324.86 L357.47,323.50 L356.25,321.89 L356.43,320.00 L357.00,318.22 L357.85,316.61 L358.94,315.22 L359.69,313.76 L360.51,312.30 L362.16,311.64 L362.84,309.79 L363.80,307.73 L365.82,307.80 L367.52,306.89 L369.40,307.16 L371.09,308.24 L372.65,308.93 L374.19,309.51 L375.72,310.16 L377.26,310.93 L378.64,312.00 L379.56,313.47 L379.92,315.19 L381.03,316.59 L380.63,318.39Z" fill="#f5ccb7" stroke="#e2b19a" stroke-width="0.6"/>
<path d="M375.22,320.00 L375.14,321.54 L374.54,322.97 L373.30,323.90 L371.85,324.24 L370.73,324.95 L369.40,325.79 L367.89,325.65 L366.59,324.87 L365.50,323.90 L364.51,322.83 L364.03,321.44 L364.13,320.00 L364.52,318.69 L364.83,317.36 L365.49,316.09 L366.37,314.76 L367.87,314.30 L369.40,314.37 L370.77,314.89 L372.09,315.33 L373.18,316.22 L374.06,317.31 L374.52,318.63Z" fill="#e7b19b"/>
<path d="M444.00,314.60 L442.97,316.09 L442.24,317.43 L442.17,318.97 L441.09,320.05 L439.90,320.92 L439.51,322.57 L438.04,323.07 L437.01,324.25 L435.98,326.12 L434.21,325.76 L432.60,325.51 L430.91,326.33 L429.56,324.94 L428.50,323.59 L427.27,322.89 L426.06,322.15 L425.08,321.12 L423.81,320.25 L422.71,319.12 L423.01,317.42 L421.73,316.16 L422.13,314.60 L421.94,313.07 L421.89,311.46 L422.70,310.08 L422.90,308.37 L423.50,306.72 L425.34,306.22 L426.53,305.15 L428.37,305.34 L429.85,305.24 L431.18,304.75 L432.60,304.17 L434.08,304.29 L435.63,304.27 L437.38,304.14 L438.74,305.05 L439.61,306.50 L440.77,307.52 L441.85,308.66 L442.36,310.14 L442.92,311.57 L443.75,313.00Z" fill="#f5ccb7" stroke="#e2b19a" stroke-width="0.6"/>
<path d="M435.91,314.60 L435.66,315.77 L435.66,317.12 L434.80,318.10 L433.90,319.11 L432.62,319.54 L431.30,319.59 L429.92,319.76 L428.78,318.97 L427.91,317.99 L427.32,316.90 L426.34,315.93 L425.86,314.60 L426.19,313.23 L427.07,312.16 L427.89,311.19 L428.93,310.49 L430.01,309.79 L431.30,309.90 L432.56,309.91 L433.76,310.35 L434.96,310.94 L436.02,311.88 L436.19,313.29Z" fill="#e7b19b"/>
<path d="M407.49,335.30 L406.81,337.34 L406.11,339.27 L406.06,341.45 L404.42,342.90 L402.86,344.19 L401.28,345.32 L399.66,346.29 L398.46,348.14 L396.28,347.83 L394.58,349.06 L392.60,347.79 L390.72,348.37 L389.07,347.32 L387.41,346.67 L384.83,347.39 L383.26,346.07 L381.34,345.06 L379.57,343.67 L379.30,341.37 L379.27,339.21 L379.21,337.22 L379.56,335.30 L379.58,333.43 L380.27,331.68 L380.75,329.89 L381.12,327.92 L382.63,326.67 L383.80,325.14 L385.69,324.54 L386.79,322.57 L388.84,322.51 L390.62,321.51 L392.60,320.88 L394.62,321.26 L396.85,320.82 L398.52,322.33 L399.63,324.35 L400.82,325.81 L402.24,326.95 L403.20,328.49 L404.45,329.89 L406.21,331.30 L406.66,333.28Z" fill="#f5ccb7" stroke="#e2b19a" stroke-width="0.6"/>
<path d="M399.75,335.30 L399.12,336.70 L398.34,337.86 L397.88,339.28 L396.95,340.59 L395.47,341.17 L393.90,340.88 L392.49,340.57 L391.16,340.04 L389.88,339.32 L389.28,337.97 L388.78,336.67 L388.55,335.30 L388.20,333.77 L388.67,332.28 L389.93,331.33 L391.19,330.60 L392.55,330.27 L393.90,329.96 L395.34,329.92 L396.58,330.66 L397.76,331.44 L399.07,332.32 L399.87,333.70Z" fill="#e7b19b"/>
<path d="M428.79,332.70 L429.07,334.61 L429.45,336.71 L429.55,338.98 L427.96,340.52 L426.96,342.37 L424.86,343.15 L423.22,344.25 L421.32,344.78 L419.39,344.91 L417.70,345.95 L415.80,345.25 L413.90,345.89 L412.00,345.63 L410.45,344.42 L408.88,343.47 L406.86,343.01 L405.62,341.52 L403.03,340.91 L402.22,338.90 L402.49,336.61 L401.96,334.69 L401.92,332.70 L402.81,330.83 L403.75,329.16 L405.06,327.80 L405.62,326.16 L405.97,324.18 L407.19,322.77 L408.52,321.37 L410.04,320.09 L411.75,318.92 L413.77,318.58 L415.80,317.70 L417.69,319.57 L419.49,320.15 L421.89,319.37 L423.24,321.12 L425.08,321.99 L426.22,323.67 L426.45,325.86 L426.77,327.69 L428.68,328.92 L428.82,330.83Z" fill="#f5ccb7" stroke="#e2b19a" stroke-width="0.6"/>
<path d="M423.26,331.50 L422.75,332.88 L422.27,334.20 L421.55,335.45 L420.30,336.18 L419.05,336.93 L417.60,337.48 L416.06,337.25 L414.71,336.51 L413.80,335.30 L413.20,334.04 L412.28,332.93 L412.02,331.50 L411.88,329.97 L412.64,328.64 L413.52,327.42 L414.68,326.44 L416.12,325.98 L417.60,326.27 L418.95,326.45 L420.27,326.87 L421.64,327.46 L423.04,328.36 L423.12,330.02Z" fill="#e7b19b"/>
<path d="M416.09,289.00 L415.35,291.06 L414.13,292.86 L413.53,294.72 L412.15,296.17 L411.70,298.27 L411.33,300.93 L409.24,301.82 L407.82,303.94 L405.65,304.82 L403.12,303.75 L401.00,303.14 L399.05,302.53 L396.92,302.89 L395.50,301.05 L393.50,300.67 L392.03,299.36 L390.08,298.46 L388.02,297.34 L387.89,294.99 L386.94,293.13 L387.27,290.97 L385.62,289.00 L386.61,286.93 L386.03,284.60 L387.13,282.67 L388.09,280.70 L390.25,279.69 L391.42,277.94 L394.02,278.14 L395.20,276.30 L397.01,275.43 L398.98,274.95 L401.00,274.12 L403.05,274.78 L405.39,274.04 L407.16,275.50 L409.31,276.06 L410.97,277.49 L412.17,279.32 L413.37,281.05 L414.28,282.93 L414.99,284.89 L416.20,286.81Z" fill="#f5ccb7" stroke="#e2b19a" stroke-width="0.6"/>
<path d="M419.46,311.00 L419.54,313.58 L419.50,316.26 L416.77,317.93 L416.00,320.25 L414.15,321.88 L412.50,323.58 L410.03,324.12 L408.74,326.63 L406.59,328.01 L404.04,327.99 L401.60,327.81 L399.04,328.83 L396.59,328.07 L394.42,326.73 L392.03,325.90 L390.27,324.08 L388.27,322.55 L386.17,320.91 L385.75,318.24 L384.85,315.92 L384.90,313.40 L385.15,311.00 L385.56,308.69 L386.48,306.56 L386.78,304.23 L387.41,301.88 L386.89,298.25 L389.12,296.60 L392.14,296.28 L394.27,294.95 L396.68,294.24 L399.13,293.82 L401.60,293.77 L404.01,294.24 L406.11,295.65 L408.80,295.23 L410.35,297.39 L412.58,298.33 L414.18,300.10 L415.24,302.23 L416.54,304.18 L418.54,306.03 L420.13,308.34Z" fill="#f5ccb7" stroke="#e2b19a" stroke-width="0.6"/>
<path d="M387.10,279.2 L390.2,285.8 L384.0,285.8 Z" fill="#e3173a"/>
<path d="M418.4,279.2 L424.8,279.2 L421.60,285.8 Z" fill="#e3173a"/>
<text x="391.60" y="285.90" font-size="9.5" fill="#e3173a" text-anchor="start" font-weight="normal" textLength="24.8" lengthAdjust="spacingAndGlyphs" stroke="#e3173a" stroke-width="0.35">NNMT</text>
<defs><linearGradient id="ag" x1="0" y1="0" x2="0" y2="1"><stop offset="0" stop-color="#8a8a8a"/><stop offset="0.45" stop-color="#4a4a4a"/><stop offset="1" stop-color="#3a3a3a"/></linearGradient></defs>
<path d="M402.4,292.6 h2.8 v6.8 h1.8 l-3.2,4.8 l-3.2,-4.8 h1.8 z" fill="url(#ag)"/>
<path d="M387.25,309.5 L390.2,316.1 L384.3,316.1 Z" fill="#23569e"/>
<path d="M418.5,309.5 L424.4,309.5 L421.45,316.1 Z" fill="#23569e"/>
<text x="395.10" y="315.90" font-size="9.5" fill="#23569e" text-anchor="start" font-weight="normal" textLength="18.0" lengthAdjust="spacingAndGlyphs" stroke="#23569e" stroke-width="0.35">SAM</text>
<rect x="378.4" y="319.2" width="50.2" height="2.0" fill="#111"/>
<path d="M387.15,325.0 L390.2,332.0 L384.1,332.0 Z" fill="#e3173a"/>
<path d="M418.5,324.8 L424.6,324.8 L421.55,331.8 Z" fill="#e3173a"/>
<text x="396.10" y="332.00" font-size="9.8" fill="#e3173a" text-anchor="start" font-weight="normal" textLength="16.2" lengthAdjust="spacingAndGlyphs" stroke="#e3173a" stroke-width="0.35">SAH</text>
<text x="364.00" y="363.80" font-size="13.2" fill="#111" text-anchor="start" font-weight="normal" textLength="69.8" lengthAdjust="spacingAndGlyphs" stroke="#111" stroke-width="0.5">Cancer cells</text>
<path d="M449.7,279.1 C451.60,278.48 456.73,276.25 461.10,275.40 C465.47,274.55 471.42,273.73 475.90,274.00 C480.38,274.27 484.42,275.40 488.00,277.00 C491.58,278.60 494.97,281.20 497.40,283.60 C499.83,286.00 501.43,289.23 502.60,291.40 C503.77,293.57 504.10,295.73 504.40,296.60 L510.6,296.6 L502.8,312.4 L494.8,296.6 L496.8,296.6 C496.47,295.37 495.93,291.27 494.80,289.20 C493.67,287.13 492.47,285.87 490.00,284.20 C487.53,282.53 484.13,280.23 480.00,279.20 C475.87,278.17 470.25,278.02 465.20,278.00 C460.15,277.98 452.28,278.92 449.70,279.10 Z" fill="#262626"/>
<text x="0" y="0" font-size="10.2" fill="#1a1a1a" stroke="#1a1a1a" stroke-width="0.12" text-anchor="middle" transform="translate(478.0 292.6) rotate(40)">EMT</text>
<text x="479.50" y="330.40" font-size="11.1" fill="#642828" text-anchor="start" font-weight="normal" textLength="62.5" lengthAdjust="spacingAndGlyphs" stroke="#642828" stroke-width="0.35">Proliferation;</text>
<text x="479.50" y="344.20" font-size="11.1" fill="#642828" text-anchor="start" font-weight="normal" textLength="48.7" lengthAdjust="spacingAndGlyphs" stroke="#642828" stroke-width="0.35">migration;</text>
</svg>
</body></html>
